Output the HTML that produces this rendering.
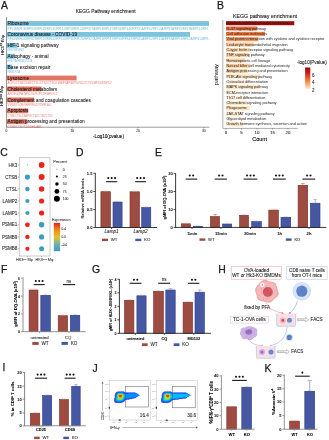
<!DOCTYPE html>
<html><head><meta charset="utf-8"><style>
html,body{margin:0;padding:0;background:#fff;}
svg{display:block;will-change:transform;}
text{font-family:"Liberation Sans", sans-serif;}
</style></head><body>
<svg width="329" height="440" viewBox="0 0 329 440">
<defs><filter id="blur03" x="-10%" y="-10%" width="120%" height="120%"><feGaussianBlur stdDeviation="0.3"/></filter></defs>
<rect width="329" height="440" fill="#fff"/>
<text x="1.0" y="8.8" font-size="10.4" fill="#1a1a1a" stroke="#1a1a1a" stroke-width="0.250" text-anchor="start" font-weight="normal" font-style="normal" >A</text>
<text x="105.6" y="12.9" font-size="4.9" fill="#111" stroke="#111" stroke-width="0.073" text-anchor="middle" font-weight="normal" font-style="normal" >KEGG Pathway enrichment</text>
<rect x="6.8" y="21.1" width="202.2" height="4.8" fill="#7dc3dc" stroke="none" stroke-width="0"/>
<text x="7.6" y="25.1" font-size="4.75" fill="#111" stroke="#111" stroke-width="0.050" text-anchor="start" font-weight="normal" font-style="normal" >Ribosome</text>
<text x="7.6" y="29.5" font-size="3.0" fill="#6ab8dc" textLength="200.9" lengthAdjust="spacingAndGlyphs">RPL13/RPL30/RPS29/RPL29/RPL32/RPL11/RPS8/RPL26/RPS27A/RPL8/RPL17/RPS3/RPS4X/RPS15A/RPL5/RPL13A/RPS3A/RPL9/RPL7A/RPS14/RPL</text>
<rect x="6.8" y="32.0" width="183.2" height="4.8" fill="#7dc3dc" stroke="none" stroke-width="0"/>
<text x="7.6" y="36.0" font-size="4.75" fill="#111" stroke="#111" stroke-width="0.050" text-anchor="start" font-weight="normal" font-style="normal" >Coronavirus disease - COVID-19</text>
<text x="7.6" y="40.4" font-size="3.0" fill="#6ab8dc" textLength="201.4" lengthAdjust="spacingAndGlyphs">RPL13/RPL30/RPS29/RPL29/RPL32/RPL11/RPS8/RPL26/RPS27A/RPL8/RPL17/RPS3/RPS4X/RPS15A/RPL5/RPL13A/RPS3A/RPL9/RPL7A/RPS14/RPL</text>
<rect x="6.8" y="42.9" width="10.8" height="4.8" fill="#7dc3dc" stroke="none" stroke-width="0"/>
<text x="7.6" y="46.9" font-size="4.75" fill="#111" stroke="#111" stroke-width="0.050" text-anchor="start" font-weight="normal" font-style="normal" >HIF-1 signaling pathway</text>
<text x="7.6" y="51.3" font-size="3.0" fill="#6ab8dc" textLength="16.5" lengthAdjust="spacingAndGlyphs">RPS6/TIMP1/ENO1</text>
<rect x="6.8" y="53.8" width="7.8" height="4.8" fill="#7dc3dc" stroke="none" stroke-width="0"/>
<text x="7.6" y="57.8" font-size="4.75" fill="#111" stroke="#111" stroke-width="0.050" text-anchor="start" font-weight="normal" font-style="normal" >Autophagy - animal</text>
<text x="7.6" y="62.199999999999996" font-size="3.0" fill="#6ab8dc" textLength="24.699999999999996" lengthAdjust="spacingAndGlyphs">RPS27A/HMGB1/CTSB</text>
<rect x="6.8" y="64.6" width="5.3999999999999995" height="4.8" fill="#7dc3dc" stroke="none" stroke-width="0"/>
<text x="7.6" y="68.6" font-size="4.75" fill="#111" stroke="#111" stroke-width="0.050" text-anchor="start" font-weight="normal" font-style="normal" >Base excision repair</text>
<text x="7.6" y="73.0" font-size="3.0" fill="#6ab8dc" textLength="12.4" lengthAdjust="spacingAndGlyphs">HMGB1/PCNA</text>
<rect x="6.8" y="75.6" width="69.8" height="4.8" fill="#e27664" stroke="none" stroke-width="0"/>
<text x="7.6" y="79.6" font-size="4.75" fill="#111" stroke="#111" stroke-width="0.050" text-anchor="start" font-weight="normal" font-style="normal" >Lysosome</text>
<text x="7.6" y="84.0" font-size="3.0" fill="#ee7a70" textLength="103.9" lengthAdjust="spacingAndGlyphs">ACP5/CTSB/CD68/CTSL/CTSZ/CTSD/LIPA/PSAP/ATP6V0D2/CTSK/MFSD8/NPC2</text>
<rect x="6.8" y="86.5" width="34.6" height="4.8" fill="#e27664" stroke="none" stroke-width="0"/>
<text x="7.6" y="90.5" font-size="4.75" fill="#111" stroke="#111" stroke-width="0.050" text-anchor="start" font-weight="normal" font-style="normal" >Cholesterol metabolism</text>
<text x="7.6" y="94.9" font-size="3.0" fill="#ee7a70" textLength="49.6" lengthAdjust="spacingAndGlyphs">APOE/LIPA/NPC2/LPL/PLTP/APOC2</text>
<rect x="6.8" y="97.5" width="27.3" height="4.8" fill="#e27664" stroke="none" stroke-width="0"/>
<text x="7.6" y="101.5" font-size="4.75" fill="#111" stroke="#111" stroke-width="0.050" text-anchor="start" font-weight="normal" font-style="normal" >Complement and coagulation cascades</text>
<text x="7.6" y="105.9" font-size="3.0" fill="#ee7a70" textLength="43.1" lengthAdjust="spacingAndGlyphs">VSIG4/C1QB/SERPING1/VTN/PLAU</text>
<rect x="6.8" y="108.4" width="21.4" height="4.8" fill="#e27664" stroke="none" stroke-width="0"/>
<text x="7.6" y="112.4" font-size="4.75" fill="#111" stroke="#111" stroke-width="0.050" text-anchor="start" font-weight="normal" font-style="normal" >Apoptosis</text>
<text x="7.6" y="116.80000000000001" font-size="3.0" fill="#ee7a70" textLength="45.1" lengthAdjust="spacingAndGlyphs">CTSB/CTSL/CASP3/CTSZ/CTSD/CTSC</text>
<rect x="6.8" y="119.2" width="20.599999999999998" height="4.8" fill="#e27664" stroke="none" stroke-width="0"/>
<text x="7.6" y="123.2" font-size="4.75" fill="#111" stroke="#111" stroke-width="0.050" text-anchor="start" font-weight="normal" font-style="normal" >Antigen processing and presentation</text>
<text x="7.6" y="127.60000000000001" font-size="3.0" fill="#ee7a70" textLength="33.9" lengthAdjust="spacingAndGlyphs">CTSB/CTSL/CD74/H2-AB1</text>
<line x1="6.5" y1="17" x2="6.5" y2="127.2" stroke="#333" stroke-width="0.5"/>
<line x1="6.5" y1="127.2" x2="209.5" y2="127.2" stroke="#333" stroke-width="0.5"/>
<line x1="6.5" y1="127.2" x2="6.5" y2="128.6" stroke="#333" stroke-width="0.4"/>
<text x="6.5" y="132.2" font-size="3.4" fill="#333" stroke="#333" stroke-width="0.051" text-anchor="middle" font-weight="normal" font-style="normal" >0</text>
<line x1="72.3" y1="127.2" x2="72.3" y2="128.6" stroke="#333" stroke-width="0.4"/>
<text x="72.3" y="132.2" font-size="3.4" fill="#333" stroke="#333" stroke-width="0.051" text-anchor="middle" font-weight="normal" font-style="normal" >10</text>
<line x1="138.0" y1="127.2" x2="138.0" y2="128.6" stroke="#333" stroke-width="0.4"/>
<text x="138.0" y="132.2" font-size="3.4" fill="#333" stroke="#333" stroke-width="0.051" text-anchor="middle" font-weight="normal" font-style="normal" >20</text>
<line x1="203.8" y1="127.2" x2="203.8" y2="128.6" stroke="#333" stroke-width="0.4"/>
<text x="203.8" y="132.2" font-size="3.4" fill="#333" stroke="#333" stroke-width="0.051" text-anchor="middle" font-weight="normal" font-style="normal" >30</text>
<text x="108.5" y="137.6" font-size="4.6" fill="#000" stroke="#000" stroke-width="0.069" text-anchor="middle" font-weight="normal" font-style="normal" >-Log10(pvalue)</text>
<text x="3.5" y="45" font-size="4.4" fill="#000" stroke="#000" stroke-width="0.066" text-anchor="middle" font-weight="normal" font-style="normal" transform="rotate(-90 3.5 45)" >HK3<tspan font-size="2.6" dy="-1.4">fl/fl</tspan><tspan dy="1.4"> Mφ</tspan></text>
<text x="3.3" y="96.2" font-size="4.4" fill="#000" stroke="#000" stroke-width="0.066" text-anchor="middle" font-weight="normal" font-style="normal" transform="rotate(-90 3.3 96.2)" >HK3<tspan font-size="2.6" dy="-1.4">cko</tspan><tspan dy="1.4"> Mφ</tspan></text>
<text x="217.0" y="9.3" font-size="10.4" fill="#1a1a1a" stroke="#1a1a1a" stroke-width="0.250" text-anchor="start" font-weight="normal" font-style="normal" >B</text>
<text x="265" y="17.6" font-size="5.3" fill="#111" stroke="#111" stroke-width="0.080" text-anchor="middle" font-weight="normal" font-style="normal" >KEGG pathway enrichment</text>
<rect x="226" y="21.2" width="68.30000000000001" height="4.0" fill="#a50a0a" stroke="none" stroke-width="0"/>
<text x="226.6" y="24.4" font-size="3.75" fill="#222" text-anchor="start" font-weight="normal" font-style="normal" >Cytokine-cytokine receptor interaction</text>
<rect x="226" y="26.516" width="31" height="4.0" fill="#ea6a3c" stroke="none" stroke-width="0"/>
<text x="226.6" y="29.715999999999998" font-size="3.75" fill="#222" text-anchor="start" font-weight="normal" font-style="normal" >IL-17 signaling pathway</text>
<rect x="226" y="31.832" width="39" height="4.0" fill="#f07c42" stroke="none" stroke-width="0"/>
<text x="226.6" y="35.032000000000004" font-size="3.75" fill="#222" text-anchor="start" font-weight="normal" font-style="normal" >Cell adhesion molecules</text>
<rect x="226" y="37.147999999999996" width="32.39999999999998" height="4.0" fill="#f5935a" stroke="none" stroke-width="0"/>
<text x="226.6" y="40.348" font-size="3.75" fill="#222" text-anchor="start" font-weight="normal" font-style="normal" >Viral protein interaction with cytokine and cytokine receptor</text>
<rect x="226" y="42.464" width="27.599999999999994" height="4.0" fill="#fac99a" stroke="none" stroke-width="0"/>
<text x="226.6" y="45.664" font-size="3.75" fill="#222" text-anchor="start" font-weight="normal" font-style="normal" >Leukocyte transendothelial migration</text>
<rect x="226" y="47.78" width="23.69999999999999" height="4.0" fill="#fbd6ae" stroke="none" stroke-width="0"/>
<text x="226.6" y="50.980000000000004" font-size="3.75" fill="#222" text-anchor="start" font-weight="normal" font-style="normal" >C-type lectin receptor signaling pathway</text>
<rect x="226" y="53.096000000000004" width="23" height="4.0" fill="#fbcf9f" stroke="none" stroke-width="0"/>
<text x="226.6" y="56.29600000000001" font-size="3.75" fill="#222" text-anchor="start" font-weight="normal" font-style="normal" >TNF signaling pathway</text>
<rect x="226" y="58.41199999999999" width="18.80000000000001" height="4.0" fill="#fbd3a6" stroke="none" stroke-width="0"/>
<text x="226.6" y="61.611999999999995" font-size="3.75" fill="#222" text-anchor="start" font-weight="normal" font-style="normal" >Hematopoietic cell lineage</text>
<rect x="226" y="63.727999999999994" width="24.30000000000001" height="4.0" fill="#fbcc98" stroke="none" stroke-width="0"/>
<text x="226.6" y="66.928" font-size="3.75" fill="#222" text-anchor="start" font-weight="normal" font-style="normal" >Natural killer cell mediated cytotoxicity</text>
<rect x="226" y="69.044" width="21.5" height="4.0" fill="#fbd0a0" stroke="none" stroke-width="0"/>
<text x="226.6" y="72.244" font-size="3.75" fill="#222" text-anchor="start" font-weight="normal" font-style="normal" >Antigen processing and presentation</text>
<rect x="226" y="74.36" width="34" height="4.0" fill="#fde2bc" stroke="none" stroke-width="0"/>
<text x="226.6" y="77.56" font-size="3.75" fill="#222" text-anchor="start" font-weight="normal" font-style="normal" >PI3K-Akt signaling pathway</text>
<rect x="226" y="79.676" width="21.69999999999999" height="4.0" fill="#feeedb" stroke="none" stroke-width="0"/>
<text x="226.6" y="82.876" font-size="3.75" fill="#222" text-anchor="start" font-weight="normal" font-style="normal" >Osteoclast differentiation</text>
<rect x="226" y="84.992" width="33.60000000000002" height="4.0" fill="#fde2bc" stroke="none" stroke-width="0"/>
<text x="226.6" y="88.19200000000001" font-size="3.75" fill="#222" text-anchor="start" font-weight="normal" font-style="normal" >MAPK signaling pathway</text>
<rect x="226" y="90.308" width="12" height="4.0" fill="#feeedb" stroke="none" stroke-width="0"/>
<text x="226.6" y="93.50800000000001" font-size="3.75" fill="#222" text-anchor="start" font-weight="normal" font-style="normal" >ECM-receptor interaction</text>
<rect x="226" y="95.624" width="20" height="4.0" fill="#feeddb" stroke="none" stroke-width="0"/>
<text x="226.6" y="98.824" font-size="3.75" fill="#222" text-anchor="start" font-weight="normal" font-style="normal" >Th17 cell differentiation</text>
<rect x="226" y="100.94" width="21.69999999999999" height="4.0" fill="#fde6c6" stroke="none" stroke-width="0"/>
<text x="226.6" y="104.14" font-size="3.75" fill="#222" text-anchor="start" font-weight="normal" font-style="normal" >Chemokine signaling pathway</text>
<rect x="226" y="106.256" width="23.5" height="4.0" fill="#fde0b8" stroke="none" stroke-width="0"/>
<text x="226.6" y="109.456" font-size="3.75" fill="#222" text-anchor="start" font-weight="normal" font-style="normal" >Phagosome</text>
<rect x="226" y="111.572" width="16.19999999999999" height="4.0" fill="#fde6c6" stroke="none" stroke-width="0"/>
<text x="226.6" y="114.772" font-size="3.75" fill="#222" text-anchor="start" font-weight="normal" font-style="normal" >JAK-STAT signaling pathway</text>
<rect x="226" y="116.888" width="9" height="4.0" fill="#fef1e0" stroke="none" stroke-width="0"/>
<text x="226.6" y="120.08800000000001" font-size="3.75" fill="#222" text-anchor="start" font-weight="normal" font-style="normal" >Glycerolipid metabolism</text>
<rect x="226" y="122.204" width="17.19999999999999" height="4.0" fill="#fde4c0" stroke="none" stroke-width="0"/>
<text x="226.6" y="125.404" font-size="3.75" fill="#222" text-anchor="start" font-weight="normal" font-style="normal" >Growth hormone synthesis, secretion and action</text>
<line x1="222.8" y1="20" x2="222.8" y2="128.4" stroke="#777" stroke-width="0.6"/>
<line x1="222.8" y1="128.4" x2="297.7" y2="128.4" stroke="#777" stroke-width="0.6"/>
<line x1="226.0" y1="128.3" x2="226.0" y2="129.6" stroke="#333" stroke-width="0.4"/>
<text x="226.0" y="134.3" font-size="4.4" fill="#222" stroke="#222" stroke-width="0.066" text-anchor="middle" font-weight="normal" font-style="normal" >0</text>
<line x1="241.5" y1="128.3" x2="241.5" y2="129.6" stroke="#333" stroke-width="0.4"/>
<text x="241.5" y="134.3" font-size="4.4" fill="#222" stroke="#222" stroke-width="0.066" text-anchor="middle" font-weight="normal" font-style="normal" >5</text>
<line x1="257.0" y1="128.3" x2="257.0" y2="129.6" stroke="#333" stroke-width="0.4"/>
<text x="257.0" y="134.3" font-size="4.4" fill="#222" stroke="#222" stroke-width="0.066" text-anchor="middle" font-weight="normal" font-style="normal" >10</text>
<line x1="272.5" y1="128.3" x2="272.5" y2="129.6" stroke="#333" stroke-width="0.4"/>
<text x="272.5" y="134.3" font-size="4.4" fill="#222" stroke="#222" stroke-width="0.066" text-anchor="middle" font-weight="normal" font-style="normal" >15</text>
<line x1="288.0" y1="128.3" x2="288.0" y2="129.6" stroke="#333" stroke-width="0.4"/>
<text x="288.0" y="134.3" font-size="4.4" fill="#222" stroke="#222" stroke-width="0.066" text-anchor="middle" font-weight="normal" font-style="normal" >20</text>
<text x="259.6" y="141.2" font-size="5.5" fill="#000" stroke="#000" stroke-width="0.082" text-anchor="middle" font-weight="normal" font-style="normal" >Count</text>
<text x="218.0" y="74.5" font-size="5.6" fill="#000" text-anchor="middle" font-weight="normal" font-style="normal" transform="rotate(-90 218.0 74.5)" >pathway</text>
<text x="311.9" y="64.3" font-size="4.6" fill="#111" stroke="#111" stroke-width="0.069" text-anchor="middle" font-weight="normal" font-style="normal" >-log10(Pvalue)</text>
<defs><linearGradient id="gB" x1="0" y1="0" x2="0" y2="1"><stop offset="0" stop-color="#960606"/><stop offset="0.3" stop-color="#dc2424"/><stop offset="0.55" stop-color="#f07034"/><stop offset="0.78" stop-color="#f8b274"/><stop offset="1" stop-color="#fdebcc"/></linearGradient></defs>
<rect x="305.1" y="67.5" width="5.2" height="21.5" fill="url(#gB)" stroke="none" stroke-width="0"/>
<text x="311.9" y="77.19999999999999" font-size="4.5" fill="#222" stroke="#222" stroke-width="0.068" text-anchor="start" font-weight="normal" font-style="normal" >6</text>
<text x="311.9" y="84.39999999999999" font-size="4.5" fill="#222" stroke="#222" stroke-width="0.068" text-anchor="start" font-weight="normal" font-style="normal" >4</text>
<text x="311.9" y="91.89999999999999" font-size="4.5" fill="#222" stroke="#222" stroke-width="0.068" text-anchor="start" font-weight="normal" font-style="normal" >2</text>
<text x="0.3" y="156.3" font-size="10.4" fill="#1a1a1a" stroke="#1a1a1a" stroke-width="0.250" text-anchor="start" font-weight="normal" font-style="normal" >C</text>
<rect x="19.2" y="157.8" width="30.8" height="98.2" fill="#fff" stroke="#999" stroke-width="0.5"/>
<text x="17.3" y="166.65" font-size="4.55" fill="#222" stroke="#222" stroke-width="0.068" text-anchor="end" font-weight="normal" font-style="normal" >HK3</text>
<line x1="17.6" y1="165.0" x2="19.2" y2="165.0" stroke="#555" stroke-width="0.4"/>
<circle cx="27.4" cy="165.0" r="0.5" fill="#3c9dc0"/>
<circle cx="41.6" cy="165.0" r="2.9" fill="#e8261e"/>
<text x="17.3" y="178.75" font-size="4.55" fill="#222" stroke="#222" stroke-width="0.068" text-anchor="end" font-weight="normal" font-style="normal" >CTSB</text>
<line x1="17.6" y1="177.1" x2="19.2" y2="177.1" stroke="#555" stroke-width="0.4"/>
<circle cx="27.4" cy="177.1" r="2.6" fill="#3c9dc0"/>
<circle cx="41.6" cy="177.1" r="3.0" fill="#e8261e"/>
<text x="17.3" y="190.65" font-size="4.55" fill="#222" stroke="#222" stroke-width="0.068" text-anchor="end" font-weight="normal" font-style="normal" >CTSL</text>
<line x1="17.6" y1="189.0" x2="19.2" y2="189.0" stroke="#555" stroke-width="0.4"/>
<circle cx="27.4" cy="189.0" r="2.2" fill="#3c9dc0"/>
<circle cx="41.6" cy="189.0" r="2.7" fill="#e8261e"/>
<text x="17.3" y="202.65" font-size="4.55" fill="#222" stroke="#222" stroke-width="0.068" text-anchor="end" font-weight="normal" font-style="normal" >LAMP2</text>
<line x1="17.6" y1="201.0" x2="19.2" y2="201.0" stroke="#555" stroke-width="0.4"/>
<circle cx="27.4" cy="201.0" r="2.1" fill="#3c9dc0"/>
<circle cx="41.6" cy="201.0" r="2.6" fill="#e8261e"/>
<text x="17.3" y="214.65" font-size="4.55" fill="#222" stroke="#222" stroke-width="0.068" text-anchor="end" font-weight="normal" font-style="normal" >LAMP1</text>
<line x1="17.6" y1="213.0" x2="19.2" y2="213.0" stroke="#555" stroke-width="0.4"/>
<circle cx="27.4" cy="213.0" r="2.1" fill="#3c9dc0"/>
<circle cx="41.6" cy="213.0" r="2.6" fill="#e8261e"/>
<text x="17.3" y="226.45000000000002" font-size="4.55" fill="#222" stroke="#222" stroke-width="0.068" text-anchor="end" font-weight="normal" font-style="normal" >PSME1</text>
<line x1="17.6" y1="224.8" x2="19.2" y2="224.8" stroke="#555" stroke-width="0.4"/>
<circle cx="27.4" cy="224.8" r="2.4" fill="#e8261e"/>
<circle cx="41.6" cy="224.8" r="2.7" fill="#3c9dc0"/>
<text x="17.3" y="238.55" font-size="4.55" fill="#222" stroke="#222" stroke-width="0.068" text-anchor="end" font-weight="normal" font-style="normal" >PSMB9</text>
<line x1="17.6" y1="236.9" x2="19.2" y2="236.9" stroke="#555" stroke-width="0.4"/>
<circle cx="27.4" cy="236.9" r="2.2" fill="#e8261e"/>
<circle cx="41.6" cy="236.9" r="2.6" fill="#3c9dc0"/>
<text x="17.3" y="250.45000000000002" font-size="4.55" fill="#222" stroke="#222" stroke-width="0.068" text-anchor="end" font-weight="normal" font-style="normal" >PSMB8</text>
<line x1="17.6" y1="248.8" x2="19.2" y2="248.8" stroke="#555" stroke-width="0.4"/>
<circle cx="27.4" cy="248.8" r="2.1" fill="#e8261e"/>
<circle cx="41.6" cy="248.8" r="2.5" fill="#3c9dc0"/>
<line x1="27.4" y1="256" x2="27.4" y2="257.4" stroke="#555" stroke-width="0.4"/>
<line x1="41.6" y1="256" x2="41.6" y2="257.4" stroke="#555" stroke-width="0.4"/>
<text x="24.5" y="261.3" font-size="3.8" fill="#333" stroke="#333" stroke-width="0.057" text-anchor="middle" font-weight="normal" font-style="normal" >HK3<tspan font-size="2.4" dy="-1.2">fl/fl</tspan><tspan dy="1.2"> Mφ</tspan></text>
<text x="44.5" y="261.3" font-size="3.8" fill="#333" stroke="#333" stroke-width="0.057" text-anchor="middle" font-weight="normal" font-style="normal" >HK3<tspan font-size="2.4" dy="-1.2">cko</tspan><tspan dy="1.2"> Mφ</tspan></text>
<text x="53.3" y="162.9" font-size="3.95" fill="#333" stroke="#333" stroke-width="0.059" text-anchor="start" font-weight="normal" font-style="normal" >Percent</text>
<line x1="56.3" y1="169.2" x2="57.5" y2="169.2" stroke="#000" stroke-width="0.4"/>
<text x="62.8" y="170.5" font-size="3.4" fill="#333" stroke="#333" stroke-width="0.051" text-anchor="start" font-weight="normal" font-style="normal" >0</text>
<circle cx="56.9" cy="176.5" r="1.0" fill="#000"/>
<text x="62.8" y="177.8" font-size="3.4" fill="#333" stroke="#333" stroke-width="0.051" text-anchor="start" font-weight="normal" font-style="normal" >25</text>
<circle cx="56.9" cy="184" r="1.7" fill="#000"/>
<text x="62.8" y="185.3" font-size="3.4" fill="#333" stroke="#333" stroke-width="0.051" text-anchor="start" font-weight="normal" font-style="normal" >50</text>
<circle cx="56.9" cy="191.4" r="2.4" fill="#000"/>
<text x="62.8" y="192.70000000000002" font-size="3.4" fill="#333" stroke="#333" stroke-width="0.051" text-anchor="start" font-weight="normal" font-style="normal" >75</text>
<circle cx="56.9" cy="198.8" r="3.0" fill="#000"/>
<text x="62.8" y="200.10000000000002" font-size="3.4" fill="#333" stroke="#333" stroke-width="0.051" text-anchor="start" font-weight="normal" font-style="normal" >100</text>
<text x="52" y="220.6" font-size="3.74" fill="#333" stroke="#333" stroke-width="0.056" text-anchor="start" font-weight="normal" font-style="normal" >Expression</text>
<defs><linearGradient id="gC" x1="0" y1="0" x2="0" y2="1"><stop offset="0" stop-color="#e8221c"/><stop offset="0.25" stop-color="#ef8a1e"/><stop offset="0.5" stop-color="#e7c321"/><stop offset="0.75" stop-color="#6fb0b0"/><stop offset="1" stop-color="#3a9cc2"/></linearGradient></defs>
<rect x="53.8" y="222.9" width="6.3" height="28.3" fill="url(#gC)" stroke="none" stroke-width="0"/>
<text x="61.6" y="230.2" font-size="3.2" fill="#333" stroke="#333" stroke-width="0.048" text-anchor="start" font-weight="normal" font-style="normal" >0.4</text>
<text x="61.6" y="238.2" font-size="3.2" fill="#333" stroke="#333" stroke-width="0.048" text-anchor="start" font-weight="normal" font-style="normal" >0.0</text>
<text x="61.6" y="246.0" font-size="3.2" fill="#333" stroke="#333" stroke-width="0.048" text-anchor="start" font-weight="normal" font-style="normal" >-0.4</text>
<text x="76.0" y="156.0" font-size="10.4" fill="#1a1a1a" stroke="#1a1a1a" stroke-width="0.250" text-anchor="start" font-weight="normal" font-style="normal" >D</text>
<line x1="95.3" y1="172.9" x2="95.3" y2="227.9" stroke="#222" stroke-width="0.9"/>
<line x1="93.3" y1="173.3" x2="95.3" y2="173.3" stroke="#222" stroke-width="0.8"/>
<text x="92.39999999999999" y="174.75" font-size="4.0" fill="#222" stroke="#222" stroke-width="0.060" text-anchor="end" font-weight="bold" font-style="normal" >1.5</text>
<line x1="93.3" y1="191.5" x2="95.3" y2="191.5" stroke="#222" stroke-width="0.8"/>
<text x="92.39999999999999" y="192.95" font-size="4.0" fill="#222" stroke="#222" stroke-width="0.060" text-anchor="end" font-weight="bold" font-style="normal" >1.0</text>
<line x1="93.3" y1="209.5" x2="95.3" y2="209.5" stroke="#222" stroke-width="0.8"/>
<text x="92.39999999999999" y="210.95" font-size="4.0" fill="#222" stroke="#222" stroke-width="0.060" text-anchor="end" font-weight="bold" font-style="normal" >0.5</text>
<line x1="93.3" y1="227.5" x2="95.3" y2="227.5" stroke="#222" stroke-width="0.8"/>
<text x="92.39999999999999" y="228.95" font-size="4.0" fill="#222" stroke="#222" stroke-width="0.060" text-anchor="end" font-weight="bold" font-style="normal" >0.0</text>
<rect x="100.89999999999999" y="191.70000000000002" width="9.600000000000003" height="35.8" fill="#9e4c42" stroke="#7a2e24" stroke-width="0.6"/>
<line x1="103.89999999999999" y1="190.9" x2="107.49999999999999" y2="190.9" stroke="#e6b8b0" stroke-width="0.5"/>
<rect x="113.0" y="202.0" width="9.100000000000003" height="25.50000000000001" fill="#4658a4" stroke="#2a3a82" stroke-width="0.6"/>
<line x1="115.75000000000001" y1="201.2" x2="119.35000000000001" y2="201.2" stroke="#b0bce6" stroke-width="0.5"/>
<rect x="130.0" y="191.8" width="9.500000000000023" height="35.7" fill="#9e4c42" stroke="#7a2e24" stroke-width="0.6"/>
<line x1="132.95" y1="191.0" x2="136.55" y2="191.0" stroke="#e6b8b0" stroke-width="0.5"/>
<rect x="141.70000000000002" y="207.5" width="9.099999999999989" height="20.00000000000001" fill="#4658a4" stroke="#2a3a82" stroke-width="0.6"/>
<line x1="144.45" y1="206.7" x2="148.05" y2="206.7" stroke="#b0bce6" stroke-width="0.5"/>
<line x1="95.3" y1="227.5" x2="157" y2="227.5" stroke="#222" stroke-width="0.9"/>
<line x1="111.6" y1="227.5" x2="111.6" y2="229.1" stroke="#222" stroke-width="0.8"/>
<line x1="140.4" y1="227.5" x2="140.4" y2="229.1" stroke="#222" stroke-width="0.8"/>
<line x1="106" y1="181.7" x2="117.3" y2="181.7" stroke="#1a1a1a" stroke-width="1.1"/>
<circle cx="108.25" cy="178.10" r="1.05" fill="#111"/>
<circle cx="111.65" cy="178.10" r="1.05" fill="#111"/>
<circle cx="115.05" cy="178.10" r="1.05" fill="#111"/>
<line x1="135.2" y1="181.7" x2="146" y2="181.7" stroke="#1a1a1a" stroke-width="1.1"/>
<circle cx="137.20" cy="178.10" r="1.05" fill="#111"/>
<circle cx="140.60" cy="178.10" r="1.05" fill="#111"/>
<circle cx="144.00" cy="178.10" r="1.05" fill="#111"/>
<text x="111.6" y="233.3" font-size="4.6" fill="#222" stroke="#222" stroke-width="0.069" text-anchor="middle" font-weight="normal" font-style="italic" >Lamp1</text>
<text x="140.5" y="233.3" font-size="4.6" fill="#222" stroke="#222" stroke-width="0.069" text-anchor="middle" font-weight="normal" font-style="italic" >Lamp2</text>
<rect x="102" y="238.70000000000002" width="6.0" height="2.4" fill="#9e4c42" stroke="none" stroke-width="0"/>
<text x="110.8" y="241.448" font-size="4.3" fill="#222" stroke="#222" stroke-width="0.065" text-anchor="start" font-weight="normal" font-style="normal" >WT</text>
<rect x="135.3" y="238.70000000000002" width="6.0" height="2.4" fill="#4658a4" stroke="none" stroke-width="0"/>
<text x="144.10000000000002" y="241.448" font-size="4.3" fill="#222" stroke="#222" stroke-width="0.065" text-anchor="start" font-weight="normal" font-style="normal" >KO</text>
<text x="83.7" y="198.4" font-size="3.95" fill="#222" stroke="#222" stroke-width="0.059" text-anchor="middle" font-weight="bold" font-style="normal" transform="rotate(-90 83.7 198.4)" >Relative mRNA levels</text>
<text x="155.0" y="156.0" font-size="10.4" fill="#1a1a1a" stroke="#1a1a1a" stroke-width="0.250" text-anchor="start" font-weight="normal" font-style="normal" >E</text>
<line x1="175.6" y1="173.2" x2="175.6" y2="227.8" stroke="#222" stroke-width="0.9"/>
<line x1="173.6" y1="173.6" x2="175.6" y2="173.6" stroke="#222" stroke-width="0.8"/>
<text x="172.7" y="175.04999999999998" font-size="4.0" fill="#222" stroke="#222" stroke-width="0.060" text-anchor="end" font-weight="bold" font-style="normal" >30</text>
<line x1="173.6" y1="191.5" x2="175.6" y2="191.5" stroke="#222" stroke-width="0.8"/>
<text x="172.7" y="192.95" font-size="4.0" fill="#222" stroke="#222" stroke-width="0.060" text-anchor="end" font-weight="bold" font-style="normal" >20</text>
<line x1="173.6" y1="209.4" x2="175.6" y2="209.4" stroke="#222" stroke-width="0.8"/>
<text x="172.7" y="210.85" font-size="4.0" fill="#222" stroke="#222" stroke-width="0.060" text-anchor="end" font-weight="bold" font-style="normal" >10</text>
<line x1="173.6" y1="227.4" x2="175.6" y2="227.4" stroke="#222" stroke-width="0.8"/>
<text x="172.7" y="228.85" font-size="4.0" fill="#222" stroke="#222" stroke-width="0.060" text-anchor="end" font-weight="bold" font-style="normal" >0</text>
<rect x="181.3" y="223.8" width="9.099999999999989" height="3.600000000000006" fill="#9e4c42" stroke="#7a2e24" stroke-width="0.6"/>
<line x1="184.04999999999998" y1="223.0" x2="187.65" y2="223.0" stroke="#e6b8b0" stroke-width="0.5"/>
<rect x="193.3" y="226.4" width="9.200000000000012" height="1.0000000000000113" fill="#4658a4" stroke="#2a3a82" stroke-width="0.6"/>
<line x1="196.1" y1="225.6" x2="199.70000000000002" y2="225.6" stroke="#b0bce6" stroke-width="0.5"/>
<rect x="210.4" y="216.5" width="9.200000000000012" height="10.900000000000016" fill="#9e4c42" stroke="#7a2e24" stroke-width="0.6"/>
<line x1="215.0" y1="214.5" x2="215.0" y2="216.2" stroke="#c07060" stroke-width="0.6"/>
<line x1="213.2" y1="214.5" x2="216.8" y2="214.5" stroke="#c07060" stroke-width="0.6"/>
<rect x="222.60000000000002" y="224.0" width="9.099999999999989" height="3.4000000000000172" fill="#4658a4" stroke="#2a3a82" stroke-width="0.6"/>
<line x1="225.35" y1="223.2" x2="228.95000000000002" y2="223.2" stroke="#b0bce6" stroke-width="0.5"/>
<rect x="239.60000000000002" y="215.3" width="8.9" height="12.100000000000005" fill="#9e4c42" stroke="#7a2e24" stroke-width="0.6"/>
<line x1="242.25" y1="214.5" x2="245.85000000000002" y2="214.5" stroke="#e6b8b0" stroke-width="0.5"/>
<rect x="251.70000000000002" y="221.60000000000002" width="9.600000000000017" height="5.7999999999999945" fill="#4658a4" stroke="#2a3a82" stroke-width="0.6"/>
<line x1="254.7" y1="220.8" x2="258.3" y2="220.8" stroke="#b0bce6" stroke-width="0.5"/>
<rect x="268.8" y="210.10000000000002" width="9.599999999999989" height="17.299999999999994" fill="#9e4c42" stroke="#7a2e24" stroke-width="0.6"/>
<line x1="271.8" y1="209.3" x2="275.40000000000003" y2="209.3" stroke="#e6b8b0" stroke-width="0.5"/>
<rect x="281.0" y="217.3" width="9.700000000000012" height="10.100000000000005" fill="#4658a4" stroke="#2a3a82" stroke-width="0.6"/>
<line x1="284.05" y1="216.5" x2="287.65000000000003" y2="216.5" stroke="#b0bce6" stroke-width="0.5"/>
<rect x="298.1" y="185.3" width="9.599999999999989" height="42.10000000000001" fill="#9e4c42" stroke="#7a2e24" stroke-width="0.6"/>
<line x1="302.9" y1="183.5" x2="302.9" y2="185" stroke="#c07060" stroke-width="0.6"/>
<line x1="301.09999999999997" y1="183.5" x2="304.7" y2="183.5" stroke="#c07060" stroke-width="0.6"/>
<rect x="310.40000000000003" y="203.20000000000002" width="9.599999999999989" height="24.2" fill="#4658a4" stroke="#2a3a82" stroke-width="0.6"/>
<line x1="315.20000000000005" y1="199.6" x2="315.20000000000005" y2="202.9" stroke="#7d8dd0" stroke-width="0.6"/>
<line x1="313.40000000000003" y1="199.6" x2="317.00000000000006" y2="199.6" stroke="#7d8dd0" stroke-width="0.6"/>
<line x1="175.6" y1="227.4" x2="326.2" y2="227.4" stroke="#222" stroke-width="0.9"/>
<line x1="192" y1="227.4" x2="192" y2="229.0" stroke="#222" stroke-width="0.8"/>
<line x1="221" y1="227.4" x2="221" y2="229.0" stroke="#222" stroke-width="0.8"/>
<line x1="250.4" y1="227.4" x2="250.4" y2="229.0" stroke="#222" stroke-width="0.8"/>
<line x1="279.6" y1="227.4" x2="279.6" y2="229.0" stroke="#222" stroke-width="0.8"/>
<line x1="309" y1="227.4" x2="309" y2="229.0" stroke="#222" stroke-width="0.8"/>
<line x1="185.6" y1="179.1" x2="197.3" y2="179.1" stroke="#1a1a1a" stroke-width="1.1"/>
<circle cx="189.75" cy="175.50" r="1.05" fill="#111"/>
<circle cx="193.15" cy="175.50" r="1.05" fill="#111"/>
<line x1="214.7" y1="179.1" x2="226.9" y2="179.1" stroke="#1a1a1a" stroke-width="1.1"/>
<circle cx="219.10" cy="175.50" r="1.05" fill="#111"/>
<circle cx="222.50" cy="175.50" r="1.05" fill="#111"/>
<line x1="243.6" y1="179.1" x2="257.3" y2="179.1" stroke="#1a1a1a" stroke-width="1.1"/>
<circle cx="247.05" cy="175.50" r="1.05" fill="#111"/>
<circle cx="250.45" cy="175.50" r="1.05" fill="#111"/>
<circle cx="253.85" cy="175.50" r="1.05" fill="#111"/>
<line x1="273" y1="179.1" x2="285.8" y2="179.1" stroke="#1a1a1a" stroke-width="1.1"/>
<circle cx="276.00" cy="175.50" r="1.05" fill="#111"/>
<circle cx="279.40" cy="175.50" r="1.05" fill="#111"/>
<circle cx="282.80" cy="175.50" r="1.05" fill="#111"/>
<line x1="302.4" y1="179.1" x2="315.2" y2="179.1" stroke="#1a1a1a" stroke-width="1.1"/>
<circle cx="307.10" cy="175.50" r="1.05" fill="#111"/>
<circle cx="310.50" cy="175.50" r="1.05" fill="#111"/>
<text x="192.5" y="234.7" font-size="4.2" fill="#222" stroke="#222" stroke-width="0.063" text-anchor="middle" font-weight="bold" font-style="normal" >5min</text>
<text x="221" y="234.7" font-size="4.2" fill="#222" stroke="#222" stroke-width="0.063" text-anchor="middle" font-weight="bold" font-style="normal" >15min</text>
<text x="250" y="234.7" font-size="4.2" fill="#222" stroke="#222" stroke-width="0.063" text-anchor="middle" font-weight="bold" font-style="normal" >30min</text>
<text x="279.6" y="234.7" font-size="4.2" fill="#222" stroke="#222" stroke-width="0.063" text-anchor="middle" font-weight="bold" font-style="normal" >1h</text>
<text x="309" y="234.7" font-size="4.2" fill="#222" stroke="#222" stroke-width="0.063" text-anchor="middle" font-weight="bold" font-style="normal" >2h</text>
<rect x="199.5" y="238.4" width="5.8" height="2.4" fill="#9e4c42" stroke="none" stroke-width="0"/>
<text x="208.10000000000002" y="241.076" font-size="4.1" fill="#222" stroke="#222" stroke-width="0.061" text-anchor="start" font-weight="normal" font-style="normal" >WT</text>
<rect x="285.8" y="238.4" width="5.8" height="2.4" fill="#4658a4" stroke="none" stroke-width="0"/>
<text x="294.40000000000003" y="241.076" font-size="4.1" fill="#222" stroke="#222" stroke-width="0.061" text-anchor="start" font-weight="normal" font-style="normal" >KO</text>
<text x="166.3" y="197.6" font-size="4.1" fill="#000" stroke="#000" stroke-width="0.061" text-anchor="middle" font-weight="bold" font-style="normal" transform="rotate(-90 166.3 197.6)" >gMFI of DQ-OVA (x10<tspan font-size="2.6" dy="-1.3">3</tspan><tspan dy="1.3">)</tspan></text>
<text x="1.0" y="272.8" font-size="10.4" fill="#1a1a1a" stroke="#1a1a1a" stroke-width="0.250" text-anchor="start" font-weight="normal" font-style="normal" >F</text>
<line x1="23.0" y1="277.40000000000003" x2="23.0" y2="332.09999999999997" stroke="#888" stroke-width="0.9"/>
<line x1="21.0" y1="278.2" x2="23.0" y2="278.2" stroke="#888" stroke-width="0.8"/>
<text x="20.1" y="279.65" font-size="3.6" fill="#222" stroke="#222" stroke-width="0.054" text-anchor="end" font-weight="bold" font-style="normal" >6</text>
<line x1="21.0" y1="296.1" x2="23.0" y2="296.1" stroke="#888" stroke-width="0.8"/>
<text x="20.1" y="297.55" font-size="3.6" fill="#222" stroke="#222" stroke-width="0.054" text-anchor="end" font-weight="bold" font-style="normal" >4</text>
<line x1="21.0" y1="313.8" x2="23.0" y2="313.8" stroke="#888" stroke-width="0.8"/>
<text x="20.1" y="315.25" font-size="3.6" fill="#222" stroke="#222" stroke-width="0.054" text-anchor="end" font-weight="bold" font-style="normal" >2</text>
<line x1="21.0" y1="331.6" x2="23.0" y2="331.6" stroke="#888" stroke-width="0.8"/>
<text x="20.1" y="333.05" font-size="3.6" fill="#222" stroke="#222" stroke-width="0.054" text-anchor="end" font-weight="bold" font-style="normal" >0</text>
<rect x="29.1" y="290.0" width="8.899999999999997" height="41.7" fill="#9e4c42" stroke="#7a2e24" stroke-width="0.6"/>
<line x1="31.749999999999996" y1="289.2" x2="35.349999999999994" y2="289.2" stroke="#e6b8b0" stroke-width="0.5"/>
<rect x="40.8" y="295.3" width="9.600000000000003" height="36.39999999999999" fill="#4658a4" stroke="#2a3a82" stroke-width="0.6"/>
<line x1="43.800000000000004" y1="294.5" x2="47.4" y2="294.5" stroke="#b0bce6" stroke-width="0.5"/>
<rect x="58.199999999999996" y="315.7" width="9.400000000000007" height="16.00000000000001" fill="#9e4c42" stroke="#7a2e24" stroke-width="0.6"/>
<line x1="61.10000000000001" y1="314.9" x2="64.7" y2="314.9" stroke="#e6b8b0" stroke-width="0.5"/>
<rect x="70.3" y="315.3" width="9.499999999999995" height="16.399999999999988" fill="#4658a4" stroke="#2a3a82" stroke-width="0.6"/>
<line x1="73.25" y1="314.5" x2="76.85" y2="314.5" stroke="#b0bce6" stroke-width="0.5"/>
<line x1="23.0" y1="331.7" x2="85.7" y2="331.7" stroke="#888" stroke-width="0.9"/>
<line x1="39.6" y1="331.7" x2="39.6" y2="333.3" stroke="#888" stroke-width="0.8"/>
<line x1="69" y1="331.7" x2="69" y2="333.3" stroke="#888" stroke-width="0.8"/>
<line x1="33.7" y1="284.6" x2="44.7" y2="284.6" stroke="#1a1a1a" stroke-width="1.1"/>
<circle cx="35.80" cy="281.00" r="1.05" fill="#111"/>
<circle cx="39.20" cy="281.00" r="1.05" fill="#111"/>
<circle cx="42.60" cy="281.00" r="1.05" fill="#111"/>
<line x1="62.9" y1="284.6" x2="75.1" y2="284.6" stroke="#1a1a1a" stroke-width="1.1"/>
<text x="69.0" y="282.6" font-size="4.5" fill="#222" stroke="#222" stroke-width="0.068" text-anchor="middle" font-weight="normal" font-style="normal" >ns</text>
<text x="39.6" y="338.8" font-size="4.3" fill="#222" stroke="#222" stroke-width="0.065" text-anchor="middle" font-weight="normal" font-style="normal" >untreated</text>
<text x="68.2" y="338.8" font-size="4.3" fill="#222" stroke="#222" stroke-width="0.065" text-anchor="middle" font-weight="normal" font-style="normal" >CQ</text>
<rect x="32.3" y="341.9" width="6.4" height="3.0" fill="#9e4c42" stroke="none" stroke-width="0"/>
<text x="41.49999999999999" y="345.056" font-size="4.6" fill="#222" stroke="#222" stroke-width="0.069" text-anchor="start" font-weight="normal" font-style="normal" >WT</text>
<rect x="61.5" y="341.9" width="6.4" height="3.0" fill="#4658a4" stroke="none" stroke-width="0"/>
<text x="70.7" y="345.056" font-size="4.6" fill="#222" stroke="#222" stroke-width="0.069" text-anchor="start" font-weight="normal" font-style="normal" >KO</text>
<text x="16.8" y="303.8" font-size="4.3" fill="#000" stroke="#000" stroke-width="0.065" text-anchor="middle" font-weight="bold" font-style="normal" transform="rotate(-90 16.8 303.8)" >gMFI of DQ-OVA (x10<tspan font-size="2.6" dy="-1.3">3</tspan><tspan dy="1.3">)</tspan></text>
<text x="92.0" y="273.2" font-size="10.4" fill="#1a1a1a" stroke="#1a1a1a" stroke-width="0.250" text-anchor="start" font-weight="normal" font-style="normal" >G</text>
<line x1="119.4" y1="278.90000000000003" x2="119.4" y2="333.7" stroke="#222" stroke-width="0.9"/>
<line x1="117.4" y1="279.3" x2="119.4" y2="279.3" stroke="#222" stroke-width="0.8"/>
<text x="116.5" y="280.75" font-size="3.6" fill="#222" stroke="#222" stroke-width="0.054" text-anchor="end" font-weight="bold" font-style="normal" >4</text>
<line x1="117.4" y1="292.8" x2="119.4" y2="292.8" stroke="#222" stroke-width="0.8"/>
<text x="116.5" y="294.25" font-size="3.6" fill="#222" stroke="#222" stroke-width="0.054" text-anchor="end" font-weight="bold" font-style="normal" >3</text>
<line x1="117.4" y1="306.4" x2="119.4" y2="306.4" stroke="#222" stroke-width="0.8"/>
<text x="116.5" y="307.84999999999997" font-size="3.6" fill="#222" stroke="#222" stroke-width="0.054" text-anchor="end" font-weight="bold" font-style="normal" >2</text>
<line x1="117.4" y1="319.8" x2="119.4" y2="319.8" stroke="#222" stroke-width="0.8"/>
<text x="116.5" y="321.25" font-size="3.6" fill="#222" stroke="#222" stroke-width="0.054" text-anchor="end" font-weight="bold" font-style="normal" >1</text>
<line x1="117.4" y1="333.3" x2="119.4" y2="333.3" stroke="#222" stroke-width="0.8"/>
<text x="116.5" y="334.75" font-size="3.6" fill="#222" stroke="#222" stroke-width="0.054" text-anchor="end" font-weight="bold" font-style="normal" >0</text>
<rect x="124.5" y="300.3" width="9.399999999999986" height="33.000000000000014" fill="#9e4c42" stroke="#7a2e24" stroke-width="0.6"/>
<line x1="127.39999999999999" y1="299.5" x2="131.0" y2="299.5" stroke="#e6b8b0" stroke-width="0.5"/>
<rect x="136.9" y="295.8" width="9.200000000000012" height="37.500000000000014" fill="#4658a4" stroke="#2a3a82" stroke-width="0.6"/>
<line x1="139.7" y1="295.0" x2="143.3" y2="295.0" stroke="#b0bce6" stroke-width="0.5"/>
<rect x="153.60000000000002" y="291.3" width="9.799999999999978" height="42.000000000000014" fill="#9e4c42" stroke="#7a2e24" stroke-width="0.6"/>
<line x1="156.7" y1="290.5" x2="160.3" y2="290.5" stroke="#e6b8b0" stroke-width="0.5"/>
<rect x="165.8" y="290.0" width="9.4" height="43.300000000000026" fill="#4658a4" stroke="#2a3a82" stroke-width="0.6"/>
<line x1="170.5" y1="288.6" x2="170.5" y2="289.7" stroke="#7d8dd0" stroke-width="0.6"/>
<line x1="168.7" y1="288.6" x2="172.3" y2="288.6" stroke="#7d8dd0" stroke-width="0.6"/>
<rect x="183.10000000000002" y="302.2" width="9.499999999999995" height="31.100000000000033" fill="#9e4c42" stroke="#7a2e24" stroke-width="0.6"/>
<line x1="186.05" y1="301.4" x2="189.65000000000003" y2="301.4" stroke="#e6b8b0" stroke-width="0.5"/>
<rect x="195.0" y="292.2" width="9.4" height="41.10000000000004" fill="#4658a4" stroke="#2a3a82" stroke-width="0.6"/>
<line x1="199.7" y1="290" x2="199.7" y2="291.9" stroke="#7d8dd0" stroke-width="0.6"/>
<line x1="197.89999999999998" y1="290" x2="201.5" y2="290" stroke="#7d8dd0" stroke-width="0.6"/>
<line x1="119.3" y1="333.3" x2="211" y2="333.3" stroke="#222" stroke-width="0.9"/>
<line x1="135.4" y1="333.3" x2="135.4" y2="334.90000000000003" stroke="#222" stroke-width="0.8"/>
<line x1="164.3" y1="333.3" x2="164.3" y2="334.90000000000003" stroke="#222" stroke-width="0.8"/>
<line x1="193.8" y1="333.3" x2="193.8" y2="334.90000000000003" stroke="#222" stroke-width="0.8"/>
<line x1="129.7" y1="283.3" x2="141.5" y2="283.3" stroke="#1a1a1a" stroke-width="1.1"/>
<circle cx="133.90" cy="279.70" r="1.05" fill="#111"/>
<circle cx="137.30" cy="279.70" r="1.05" fill="#111"/>
<line x1="158.2" y1="283.3" x2="170" y2="283.3" stroke="#1a1a1a" stroke-width="1.1"/>
<text x="164.1" y="281.3" font-size="4.5" fill="#222" stroke="#222" stroke-width="0.068" text-anchor="middle" font-weight="normal" font-style="normal" >ns</text>
<line x1="188" y1="283.3" x2="199.3" y2="283.3" stroke="#1a1a1a" stroke-width="1.1"/>
<circle cx="191.95" cy="279.70" r="1.05" fill="#111"/>
<circle cx="195.35" cy="279.70" r="1.05" fill="#111"/>
<text x="135.4" y="339.8" font-size="3.9" fill="#000" stroke="#000" stroke-width="0.058" text-anchor="middle" font-weight="bold" font-style="normal" >untreated</text>
<text x="164.3" y="339.8" font-size="3.9" fill="#000" stroke="#000" stroke-width="0.058" text-anchor="middle" font-weight="bold" font-style="normal" >CQ</text>
<text x="193.8" y="339.8" font-size="3.9" fill="#000" stroke="#000" stroke-width="0.058" text-anchor="middle" font-weight="bold" font-style="normal" >MG132</text>
<rect x="141.9" y="343.3" width="5.8" height="2.8" fill="#9e4c42" stroke="none" stroke-width="0"/>
<text x="150.50000000000003" y="346.356" font-size="4.6" fill="#222" stroke="#222" stroke-width="0.069" text-anchor="start" font-weight="normal" font-style="normal" >WT</text>
<rect x="173.7" y="343.3" width="5.8" height="2.8" fill="#4658a4" stroke="none" stroke-width="0"/>
<text x="182.3" y="346.356" font-size="4.6" fill="#222" stroke="#222" stroke-width="0.069" text-anchor="start" font-weight="normal" font-style="normal" >KO</text>
<text x="112.1" y="305" font-size="3.65" fill="#000" stroke="#000" stroke-width="0.055" text-anchor="middle" font-weight="bold" font-style="normal" transform="rotate(-90 112.1 305)" >gMFI of H-2K<tspan font-size="2.4" dy="-1.2">b</tspan><tspan dy="1.2">-SIINFEKL (x10</tspan><tspan font-size="2.4" dy="-1.2">3</tspan><tspan dy="1.2">)</tspan></text>
<text x="218.2" y="272.7" font-size="10.4" fill="#1a1a1a" stroke="#1a1a1a" stroke-width="0.250" text-anchor="start" font-weight="normal" font-style="normal" >H</text>
<rect x="231.3" y="266.4" width="50.3" height="12.8" fill="#fff" stroke="#e6a4a8" stroke-width="0.5"/>
<text x="256.5" y="271.6" font-size="4.7" fill="#222" stroke="#222" stroke-width="0.090" text-anchor="middle" font-weight="normal" font-style="normal" >OVA-loaded</text>
<text x="256.5" y="277.1" font-size="4.7" fill="#222" stroke="#222" stroke-width="0.090" text-anchor="middle" font-weight="normal" font-style="normal" >WT or Hk3-KO BMDMs</text>
<rect x="286.8" y="266.4" width="40.3" height="13.0" fill="#fff" stroke="#a9c2ea" stroke-width="0.5"/>
<text x="307" y="271.9" font-size="4.6" fill="#222" stroke="#222" stroke-width="0.090" text-anchor="middle" font-weight="normal" font-style="normal" >CD8 naive T cells</text>
<text x="307" y="277.4" font-size="4.6" fill="#222" stroke="#222" stroke-width="0.090" text-anchor="middle" font-weight="normal" font-style="normal" >from OT-I mice</text>
<path d="M278.76,293.74 Q278.76,293.74 278.14,295.15 Q277.52,296.55 276.17,297.39 Q274.81,298.23 273.93,299.37 Q273.05,300.50 271.84,301.46 Q270.63,302.42 269.07,302.48 Q267.51,302.55 266.07,302.13 Q264.64,301.71 263.22,301.41 Q261.80,301.10 260.17,300.77 Q258.54,300.43 257.68,299.11 Q256.82,297.79 256.75,296.23 Q256.67,294.68 255.98,293.38 Q255.29,292.09 255.19,290.60 Q255.10,289.11 255.74,287.75 Q256.38,286.39 257.42,285.34 Q258.46,284.29 259.40,283.14 Q260.34,281.99 261.60,281.02 Q262.86,280.06 264.46,279.89 Q266.05,279.72 267.49,280.50 Q268.92,281.29 270.31,281.59 Q271.71,281.88 273.31,282.20 Q274.92,282.53 275.72,283.85 Q276.53,285.17 276.83,286.61 Q277.12,288.06 277.61,289.39 Q278.10,290.72 278.43,292.23 Z" fill="#eea4a6"/>
<path d="M275.94,296.20 Q275.94,296.20 274.90,297.04 Q273.85,297.87 272.96,298.79 Q272.06,299.71 270.98,300.64 Q269.91,301.58 268.47,301.42 Q267.04,301.25 265.77,300.90 Q264.49,300.55 263.24,300.21 Q261.99,299.87 260.58,299.48 Q259.16,299.10 258.51,297.87 Q257.86,296.64 257.65,295.34 Q257.44,294.04 256.97,292.84 Q256.50,291.63 256.27,290.26 Q256.05,288.89 256.97,287.81 Q257.90,286.72 258.75,285.76 Q259.60,284.79 260.55,283.91 Q261.50,283.03 262.64,282.26 Q263.78,281.49 265.16,281.42 Q266.55,281.36 267.83,281.80 Q269.11,282.24 270.48,282.38 Q271.85,282.52 273.14,283.11 Q274.43,283.71 275.07,284.94 Q275.71,286.18 275.98,287.46 Q276.25,288.73 276.58,289.95 Q276.91,291.17 277.07,292.50 Q277.22,293.83 276.58,295.02 Z" fill="#f5b9b9"/>
<circle cx="265.15" cy="294.70" r="0.3" fill="#c0607a"/>
<circle cx="265.31" cy="289.32" r="0.3" fill="#c0607a"/>
<circle cx="261.20" cy="290.12" r="0.3" fill="#c0607a"/>
<circle cx="273.12" cy="293.81" r="0.3" fill="#c0607a"/>
<circle cx="272.88" cy="292.86" r="0.3" fill="#c0607a"/>
<circle cx="269.39" cy="292.62" r="0.3" fill="#c0607a"/>
<circle cx="259.11" cy="295.35" r="0.3" fill="#c0607a"/>
<circle cx="270.00" cy="294.55" r="0.3" fill="#c0607a"/>
<circle cx="260.36" cy="284.76" r="0.3" fill="#c0607a"/>
<circle cx="261.51" cy="288.61" r="0.3" fill="#c0607a"/>
<circle cx="268.83" cy="291.10" r="0.3" fill="#c0607a"/>
<circle cx="270.02" cy="287.43" r="0.3" fill="#c0607a"/>
<circle cx="268.81" cy="293.97" r="0.3" fill="#c0607a"/>
<circle cx="263.72" cy="299.41" r="0.3" fill="#c0607a"/>
<circle cx="269.85" cy="297.97" r="0.3" fill="#c0607a"/>
<circle cx="263.07" cy="286.96" r="0.3" fill="#c0607a"/>
<circle cx="264.53" cy="290.70" r="0.3" fill="#c0607a"/>
<circle cx="270.81" cy="292.98" r="0.3" fill="#c0607a"/>
<circle cx="264.17" cy="285.77" r="0.3" fill="#c0607a"/>
<circle cx="263.95" cy="298.09" r="0.3" fill="#c0607a"/>
<circle cx="261.82" cy="292.91" r="0.3" fill="#c0607a"/>
<circle cx="268.99" cy="283.76" r="0.3" fill="#c0607a"/>
<circle cx="267.07" cy="298.60" r="0.3" fill="#c0607a"/>
<circle cx="258.02" cy="290.00" r="0.3" fill="#c0607a"/>
<circle cx="266.14" cy="286.34" r="0.3" fill="#c0607a"/>
<circle cx="270.04" cy="290.99" r="0.3" fill="#c0607a"/>
<circle cx="267.8" cy="292" r="5.0" fill="#d45a66"/>
<circle cx="265.30" cy="292.59" r="0.35" fill="#a83444"/>
<circle cx="270.32" cy="294.99" r="0.35" fill="#a83444"/>
<circle cx="270.78" cy="292.12" r="0.35" fill="#a83444"/>
<circle cx="268.76" cy="291.29" r="0.35" fill="#a83444"/>
<circle cx="264.69" cy="290.90" r="0.35" fill="#a83444"/>
<circle cx="270.30" cy="292.66" r="0.35" fill="#a83444"/>
<circle cx="266.99" cy="289.30" r="0.35" fill="#a83444"/>
<circle cx="267.54" cy="290.36" r="0.35" fill="#a83444"/>
<circle cx="267.91" cy="293.40" r="0.35" fill="#a83444"/>
<circle cx="263.77" cy="291.84" r="0.35" fill="#a83444"/>
<circle cx="264.69" cy="290.01" r="0.35" fill="#a83444"/>
<circle cx="265.10" cy="294.42" r="0.35" fill="#a83444"/>
<circle cx="269.62" cy="293.35" r="0.35" fill="#a83444"/>
<circle cx="266.16" cy="288.82" r="0.35" fill="#a83444"/>
<circle cx="262.3" cy="284.9" r="2.4" fill="#fff" stroke="#f0a0a8" stroke-width="0.3"/>
<circle cx="262.3" cy="284.9" r="0.8" fill="#e87080"/>
<circle cx="301.8" cy="291.2" r="9.2" fill="#c9dcf4"/>
<circle cx="301.8" cy="291.2" r="8.46" fill="#d6e5f7"/>
<circle cx="301.8" cy="291.2" r="5.6" fill="#6287cc"/>
<circle cx="299.41" cy="292.37" r="0.28" fill="#3f62a8"/>
<circle cx="302.04" cy="289.39" r="0.28" fill="#3f62a8"/>
<circle cx="302.35" cy="291.94" r="0.28" fill="#3f62a8"/>
<circle cx="304.57" cy="289.88" r="0.28" fill="#3f62a8"/>
<circle cx="297.98" cy="294.45" r="0.28" fill="#3f62a8"/>
<circle cx="305.50" cy="293.00" r="0.28" fill="#3f62a8"/>
<circle cx="304.84" cy="293.90" r="0.28" fill="#3f62a8"/>
<circle cx="298.60" cy="294.81" r="0.28" fill="#3f62a8"/>
<circle cx="304.96" cy="291.75" r="0.28" fill="#3f62a8"/>
<circle cx="302.07" cy="293.55" r="0.28" fill="#3f62a8"/>
<circle cx="302.38" cy="286.30" r="0.28" fill="#3f62a8"/>
<circle cx="302.48" cy="286.54" r="0.28" fill="#3f62a8"/>
<circle cx="297.72" cy="288.66" r="0.28" fill="#3f62a8"/>
<circle cx="303.05" cy="289.93" r="0.28" fill="#3f62a8"/>
<circle cx="298.33" cy="294.80" r="0.28" fill="#3f62a8"/>
<circle cx="298.05" cy="292.92" r="0.28" fill="#3f62a8"/>
<circle cx="304.36" cy="294.18" r="0.28" fill="#3f62a8"/>
<circle cx="300.22" cy="291.05" r="0.28" fill="#3f62a8"/>
<circle cx="297.48" cy="290.02" r="0.28" fill="#3f62a8"/>
<circle cx="301.46" cy="290.28" r="0.28" fill="#3f62a8"/>
<circle cx="299.17" cy="295.23" r="0.28" fill="#3f62a8"/>
<circle cx="306.07" cy="293.17" r="0.28" fill="#3f62a8"/>
<circle cx="302.50" cy="294.17" r="0.28" fill="#3f62a8"/>
<circle cx="305.86" cy="290.19" r="0.28" fill="#3f62a8"/>
<circle cx="302.52" cy="296.01" r="0.28" fill="#3f62a8"/>
<circle cx="299.49" cy="292.98" r="0.28" fill="#3f62a8"/>
<circle cx="303.84" cy="294.25" r="0.28" fill="#3f62a8"/>
<circle cx="299.14" cy="294.66" r="0.28" fill="#3f62a8"/>
<circle cx="297.47" cy="289.67" r="0.28" fill="#3f62a8"/>
<circle cx="300.19" cy="288.87" r="0.28" fill="#3f62a8"/>
<circle cx="301.97" cy="287.70" r="0.28" fill="#3f62a8"/>
<circle cx="298.64" cy="293.42" r="0.28" fill="#3f62a8"/>
<circle cx="302.43" cy="288.27" r="0.28" fill="#3f62a8"/>
<circle cx="303.55" cy="287.17" r="0.28" fill="#3f62a8"/>
<circle cx="305.98" cy="288.43" r="0.28" fill="#3f62a8"/>
<circle cx="301.09" cy="290.37" r="0.28" fill="#3f62a8"/>
<circle cx="303.90" cy="293.36" r="0.28" fill="#3f62a8"/>
<circle cx="301.35" cy="291.13" r="0.28" fill="#3f62a8"/>
<circle cx="303.38" cy="295.46" r="0.28" fill="#3f62a8"/>
<circle cx="302.69" cy="287.44" r="0.28" fill="#3f62a8"/>
<circle cx="302.22" cy="292.65" r="0.28" fill="#3f62a8"/>
<circle cx="301.33" cy="289.63" r="0.28" fill="#3f62a8"/>
<circle cx="303.91" cy="291.41" r="0.28" fill="#3f62a8"/>
<circle cx="306.42" cy="293.15" r="0.28" fill="#3f62a8"/>
<text x="257.2" y="308.9" font-size="4.65" fill="#222" stroke="#222" stroke-width="0.090" text-anchor="middle" font-weight="normal" font-style="normal" >fixed by PFA</text>
<path d="M266,303 Q270,311 282.5,313.2" fill="none" stroke="#e47a7a" stroke-width="0.5"/>
<path d="M281.8,312.1 L283.8,313.5 L281.6,314.3 Z" fill="#d9505a"/>
<path d="M297.5,301 Q295,309 290.3,312.8" fill="none" stroke="#7d8fd2" stroke-width="0.5"/>
<path d="M289.3,311.9 L289.6,314 L291.4,312.9 Z" fill="#5a6cc0"/>
<path d="M276.09999999999997,313.5 L276.7,314.40000000000003 L276.7,325.0 Q276.7,326.2 277.9,326.2 L294.40000000000003,326.2 Q295.6,326.2 295.6,325.0 L295.6,314.40000000000003 L296.20000000000005,313.5" fill="#fbdfe3" stroke="#a5c5ea" stroke-width="0.7"/>
<circle cx="282.8" cy="320.4" r="3.0" fill="#f6b4bc"/><circle cx="282.8" cy="320.4" r="1.35" fill="#d9485a"/>
<circle cx="289.5" cy="320.3" r="2.5" fill="#6a8ed0"/>
<circle cx="290.54" cy="321.26" r="0.25" fill="#3d5ea8"/>
<circle cx="287.65" cy="320.16" r="0.25" fill="#3d5ea8"/>
<circle cx="290.26" cy="320.87" r="0.25" fill="#3d5ea8"/>
<circle cx="288.30" cy="319.42" r="0.25" fill="#3d5ea8"/>
<circle cx="289.81" cy="318.85" r="0.25" fill="#3d5ea8"/>
<circle cx="289.29" cy="318.56" r="0.25" fill="#3d5ea8"/>
<circle cx="283" cy="313.6" r="0.45" fill="#d9505a"/><circle cx="289.5" cy="313.6" r="0.45" fill="#5a6cc0"/>
<path d="M297.4,318.84999999999997 L305.7,318.84999999999997 L305.7,317.59999999999997 L308.7,319.7 L305.7,321.8 L305.7,320.55 L297.4,320.55 Z" fill="#fff" stroke="#777" stroke-width="0.45"/>
<line x1="298.4" y1="319.7" x2="299.2" y2="319.7" stroke="#999" stroke-width="0.5"/>
<line x1="300.0" y1="319.7" x2="300.8" y2="319.7" stroke="#999" stroke-width="0.5"/>
<line x1="301.59999999999997" y1="319.7" x2="302.4" y2="319.7" stroke="#999" stroke-width="0.5"/>
<line x1="303.2" y1="319.7" x2="304.0" y2="319.7" stroke="#999" stroke-width="0.5"/>
<text x="310.6" y="321.34999999999997" font-size="4.6" fill="#222" stroke="#222" stroke-width="0.090" text-anchor="start" font-weight="normal" font-style="normal" >FACS</text>
<rect x="230.2" y="316.1" width="38.3" height="7.0" fill="#fff" stroke="#d9b9c2" stroke-width="0.5"/>
<text x="249.3" y="321.3" font-size="4.8" fill="#222" stroke="#222" stroke-width="0.090" text-anchor="middle" font-weight="normal" font-style="normal" >TC-1-OVA cells</text>
<path d="M240.5,332 C240,329 242.5,327 245,327.5 C247,326 251,325.8 253.5,327.2 C256.5,327.5 258,330 257,332.5 C258,335 256,337.5 253.5,337.8 C252.5,340.5 248.5,341 247,339 C244.5,340 241,338.5 241.5,336 C239.5,335 239.5,333 240.5,332 Z" fill="#cdb1e0"/>
<circle cx="248.50" cy="338.77" r="0.3" fill="#a888c8"/>
<circle cx="246.39" cy="327.92" r="0.3" fill="#a888c8"/>
<circle cx="250.03" cy="336.27" r="0.3" fill="#a888c8"/>
<circle cx="250.66" cy="335.86" r="0.3" fill="#a888c8"/>
<circle cx="248.56" cy="331.07" r="0.3" fill="#a888c8"/>
<circle cx="245.85" cy="332.81" r="0.3" fill="#a888c8"/>
<circle cx="247.62" cy="337.50" r="0.3" fill="#a888c8"/>
<circle cx="251.45" cy="329.08" r="0.3" fill="#a888c8"/>
<circle cx="252.20" cy="333.71" r="0.3" fill="#a888c8"/>
<circle cx="252.47" cy="338.23" r="0.3" fill="#a888c8"/>
<circle cx="250.94" cy="327.97" r="0.3" fill="#a888c8"/>
<circle cx="251.39" cy="328.42" r="0.3" fill="#a888c8"/>
<circle cx="254.30" cy="331.59" r="0.3" fill="#a888c8"/>
<circle cx="248.55" cy="339.39" r="0.3" fill="#a888c8"/>
<circle cx="243.17" cy="333.87" r="0.3" fill="#a888c8"/>
<circle cx="244.88" cy="331.73" r="0.3" fill="#a888c8"/>
<circle cx="246.00" cy="336.61" r="0.3" fill="#a888c8"/>
<circle cx="247.93" cy="335.45" r="0.3" fill="#a888c8"/>
<ellipse cx="248.8" cy="332" rx="3.4" ry="2.8" fill="#9a70c2"/>
<circle cx="246.49" cy="331.68" r="0.3" fill="#7a50a8"/>
<circle cx="250.16" cy="331.66" r="0.3" fill="#7a50a8"/>
<circle cx="249.02" cy="329.83" r="0.3" fill="#7a50a8"/>
<circle cx="248.34" cy="331.27" r="0.3" fill="#7a50a8"/>
<circle cx="250.39" cy="332.27" r="0.3" fill="#7a50a8"/>
<circle cx="248.77" cy="330.69" r="0.3" fill="#7a50a8"/>
<circle cx="247.34" cy="331.99" r="0.3" fill="#7a50a8"/>
<circle cx="250.24" cy="329.92" r="0.3" fill="#7a50a8"/>
<path d="M287.2,326.8 Q286,342 271.2,345.6" fill="none" stroke="#8a98d8" stroke-width="0.5"/>
<path d="M249.6,340.6 Q253,345.4 262.6,345.8" fill="none" stroke="#b08ad0" stroke-width="0.5"/>
<circle cx="262.3" cy="345.8" r="0.5" fill="#7a50a8"/><circle cx="270.6" cy="345.8" r="0.5" fill="#5a6cc0"/>
<circle cx="289.3" cy="337.4" r="3.6" fill="#c9dcf4"/>
<circle cx="289.3" cy="337.4" r="3.31" fill="#d6e5f7"/>
<circle cx="289.3" cy="337.4" r="2.6" fill="#6287cc"/>
<circle cx="290.86" cy="336.10" r="0.28" fill="#3f62a8"/>
<circle cx="288.78" cy="335.68" r="0.28" fill="#3f62a8"/>
<circle cx="289.82" cy="336.47" r="0.28" fill="#3f62a8"/>
<circle cx="290.21" cy="335.54" r="0.28" fill="#3f62a8"/>
<circle cx="288.20" cy="338.68" r="0.28" fill="#3f62a8"/>
<circle cx="288.59" cy="337.03" r="0.28" fill="#3f62a8"/>
<circle cx="288.64" cy="336.81" r="0.28" fill="#3f62a8"/>
<circle cx="289.85" cy="336.60" r="0.28" fill="#3f62a8"/>
<circle cx="289.43" cy="339.27" r="0.28" fill="#3f62a8"/>
<circle cx="288.14" cy="338.30" r="0.28" fill="#3f62a8"/>
<circle cx="291.47" cy="336.80" r="0.28" fill="#3f62a8"/>
<circle cx="290.79" cy="336.42" r="0.28" fill="#3f62a8"/>
<circle cx="287.62" cy="336.22" r="0.28" fill="#3f62a8"/>
<circle cx="288.56" cy="339.07" r="0.28" fill="#3f62a8"/>
<circle cx="290.41" cy="338.96" r="0.28" fill="#3f62a8"/>
<circle cx="288.39" cy="337.33" r="0.28" fill="#3f62a8"/>
<circle cx="288.06" cy="337.12" r="0.28" fill="#3f62a8"/>
<circle cx="289.15" cy="337.52" r="0.28" fill="#3f62a8"/>
<circle cx="289.69" cy="339.00" r="0.28" fill="#3f62a8"/>
<circle cx="289.30" cy="335.51" r="0.28" fill="#3f62a8"/>
<path d="M255.79999999999998,346.0 L256.4,346.90000000000003 L256.4,357.0 Q256.4,358.2 257.59999999999997,358.2 L273.8,358.2 Q275.0,358.2 275.0,357.0 L275.0,346.90000000000003 L275.6,346.0" fill="#fbdfe3" stroke="#a5c5ea" stroke-width="0.7"/>
<circle cx="262.0" cy="352.0" r="3.0" fill="#cfb2e2"/><circle cx="262.0" cy="352.0" r="1.50" fill="#9a6cc4"/>
<circle cx="271.0" cy="352.0" r="2.6" fill="#6a8ed0"/>
<circle cx="271.96" cy="351.34" r="0.25" fill="#3d5ea8"/>
<circle cx="272.35" cy="351.45" r="0.25" fill="#3d5ea8"/>
<circle cx="272.34" cy="353.15" r="0.25" fill="#3d5ea8"/>
<circle cx="271.77" cy="350.78" r="0.25" fill="#3d5ea8"/>
<circle cx="270.43" cy="353.59" r="0.25" fill="#3d5ea8"/>
<circle cx="270.04" cy="353.02" r="0.25" fill="#3d5ea8"/>
<path d="M277.2,350.84999999999997 L286.3,350.84999999999997 L286.3,349.59999999999997 L289.3,351.7 L286.3,353.8 L286.3,352.55 L277.2,352.55 Z" fill="#fff" stroke="#777" stroke-width="0.45"/>
<line x1="278.2" y1="351.7" x2="279.0" y2="351.7" stroke="#999" stroke-width="0.5"/>
<line x1="279.8" y1="351.7" x2="280.6" y2="351.7" stroke="#999" stroke-width="0.5"/>
<line x1="281.4" y1="351.7" x2="282.2" y2="351.7" stroke="#999" stroke-width="0.5"/>
<line x1="283.0" y1="351.7" x2="283.8" y2="351.7" stroke="#999" stroke-width="0.5"/>
<text x="291.3" y="353.34999999999997" font-size="4.6" fill="#222" stroke="#222" stroke-width="0.090" text-anchor="start" font-weight="normal" font-style="normal" >FACS</text>
<text x="2.6" y="371" font-size="10.4" fill="#1a1a1a" stroke="#1a1a1a" stroke-width="0.250" text-anchor="start" font-weight="normal" font-style="normal" >I</text>
<line x1="24.6" y1="372.0" x2="24.6" y2="426.2" stroke="#777" stroke-width="0.9"/>
<line x1="22.6" y1="372.4" x2="24.6" y2="372.4" stroke="#777" stroke-width="0.8"/>
<text x="21.700000000000003" y="373.84999999999997" font-size="4.0" fill="#222" stroke="#222" stroke-width="0.060" text-anchor="end" font-weight="bold" font-style="normal" >20</text>
<line x1="22.6" y1="386.1" x2="24.6" y2="386.1" stroke="#777" stroke-width="0.8"/>
<text x="21.700000000000003" y="387.55" font-size="4.0" fill="#222" stroke="#222" stroke-width="0.060" text-anchor="end" font-weight="bold" font-style="normal" >15</text>
<line x1="22.6" y1="399.2" x2="24.6" y2="399.2" stroke="#777" stroke-width="0.8"/>
<text x="21.700000000000003" y="400.65" font-size="4.0" fill="#222" stroke="#222" stroke-width="0.060" text-anchor="end" font-weight="bold" font-style="normal" >10</text>
<line x1="22.6" y1="412.9" x2="24.6" y2="412.9" stroke="#777" stroke-width="0.8"/>
<text x="21.700000000000003" y="414.34999999999997" font-size="4.0" fill="#222" stroke="#222" stroke-width="0.060" text-anchor="end" font-weight="bold" font-style="normal" >5</text>
<line x1="22.6" y1="426" x2="24.6" y2="426" stroke="#777" stroke-width="0.8"/>
<text x="21.700000000000003" y="427.45" font-size="4.0" fill="#222" stroke="#222" stroke-width="0.060" text-anchor="end" font-weight="bold" font-style="normal" >0</text>
<rect x="30.400000000000002" y="413.2" width="9.4" height="12.600000000000033" fill="#9e4c42" stroke="#7a2e24" stroke-width="0.6"/>
<line x1="33.300000000000004" y1="412.4" x2="36.9" y2="412.4" stroke="#e6b8b0" stroke-width="0.5"/>
<rect x="42.599999999999994" y="395.5" width="9.100000000000003" height="30.300000000000022" fill="#4658a4" stroke="#2a3a82" stroke-width="0.6"/>
<line x1="45.35" y1="394.7" x2="48.949999999999996" y2="394.7" stroke="#b0bce6" stroke-width="0.5"/>
<rect x="59.5" y="399.5" width="8.999999999999995" height="26.300000000000022" fill="#9e4c42" stroke="#7a2e24" stroke-width="0.6"/>
<line x1="62.2" y1="398.7" x2="65.8" y2="398.7" stroke="#e6b8b0" stroke-width="0.5"/>
<rect x="71.7" y="386.3" width="8.499999999999995" height="39.500000000000014" fill="#4658a4" stroke="#2a3a82" stroke-width="0.6"/>
<line x1="75.95" y1="384.6" x2="75.95" y2="386" stroke="#7d8dd0" stroke-width="0.6"/>
<line x1="74.15" y1="384.6" x2="77.75" y2="384.6" stroke="#7d8dd0" stroke-width="0.6"/>
<line x1="24.6" y1="425.8" x2="86" y2="425.8" stroke="#888" stroke-width="0.9"/>
<line x1="41" y1="425.8" x2="41" y2="427.40000000000003" stroke="#888" stroke-width="0.8"/>
<line x1="70" y1="425.8" x2="70" y2="427.40000000000003" stroke="#888" stroke-width="0.8"/>
<line x1="35" y1="378.2" x2="47.1" y2="378.2" stroke="#1a1a1a" stroke-width="1.1"/>
<circle cx="37.65" cy="374.60" r="1.05" fill="#111"/>
<circle cx="41.05" cy="374.60" r="1.05" fill="#111"/>
<circle cx="44.45" cy="374.60" r="1.05" fill="#111"/>
<line x1="64.6" y1="378.2" x2="75.6" y2="378.2" stroke="#1a1a1a" stroke-width="1.1"/>
<circle cx="66.70" cy="374.60" r="1.05" fill="#111"/>
<circle cx="70.10" cy="374.60" r="1.05" fill="#111"/>
<circle cx="73.50" cy="374.60" r="1.05" fill="#111"/>
<text x="41" y="431.2" font-size="3.9" fill="#000" stroke="#000" stroke-width="0.058" text-anchor="middle" font-weight="bold" font-style="normal" >CD25</text>
<text x="70" y="431.2" font-size="3.9" fill="#000" stroke="#000" stroke-width="0.058" text-anchor="middle" font-weight="bold" font-style="normal" >CD69</text>
<rect x="34.1" y="436.7" width="5.6" height="2.4" fill="#9e4c42" stroke="none" stroke-width="0"/>
<text x="42.5" y="439.448" font-size="4.3" fill="#222" stroke="#222" stroke-width="0.065" text-anchor="start" font-weight="normal" font-style="normal" >WT</text>
<rect x="63.3" y="436.7" width="5.6" height="2.4" fill="#4658a4" stroke="none" stroke-width="0"/>
<text x="71.69999999999999" y="439.448" font-size="4.3" fill="#222" stroke="#222" stroke-width="0.065" text-anchor="start" font-weight="normal" font-style="normal" >KO</text>
<text x="14.4" y="399" font-size="4.3" fill="#000" stroke="#000" stroke-width="0.065" text-anchor="middle" font-weight="bold" font-style="normal" transform="rotate(-90 14.4 399)" >% in CD8<tspan font-size="2.6" dy="-1.3">+</tspan><tspan dy="1.3"> T cells</tspan></text>
<text x="92.6" y="372.0" font-size="10.4" fill="#1a1a1a" stroke="#1a1a1a" stroke-width="0.250" text-anchor="start" font-weight="normal" font-style="normal" >J</text>
<rect x="109.3" y="380.3" width="40.89999999999999" height="39.69999999999999" fill="none" stroke="#b8b8b8" stroke-width="0.45"/>
<g filter="url(#blur03)"><rect x="117.30" y="391.50" width="7.05" height="0.55" fill="#1a1ae0"/><rect x="116.30" y="392.00" width="9.05" height="0.55" fill="#1a1ae0"/><rect x="115.80" y="392.50" width="19.55" height="0.55" fill="#1a1ae0"/><rect x="115.30" y="393.00" width="21.05" height="0.55" fill="#1a1ae0"/><rect x="115.30" y="393.50" width="22.05" height="0.55" fill="#1a1ae0"/><rect x="115.30" y="394.00" width="22.55" height="0.55" fill="#1a1ae0"/><rect x="114.80" y="394.50" width="24.05" height="0.55" fill="#1a1ae0"/><rect x="114.80" y="395.00" width="24.55" height="0.55" fill="#1a1ae0"/><rect x="114.80" y="395.50" width="23.55" height="0.55" fill="#1a1ae0"/><rect x="114.80" y="396.00" width="23.05" height="0.55" fill="#1a1ae0"/><rect x="114.80" y="396.50" width="22.05" height="0.55" fill="#1a1ae0"/><rect x="114.80" y="397.00" width="21.55" height="0.55" fill="#1a1ae0"/><rect x="114.80" y="397.50" width="21.05" height="0.55" fill="#1a1ae0"/><rect x="114.30" y="398.00" width="20.05" height="0.55" fill="#1a1ae0"/><rect x="114.30" y="398.50" width="17.55" height="0.55" fill="#1a1ae0"/><rect x="114.30" y="399.00" width="15.05" height="0.55" fill="#1a1ae0"/><rect x="114.30" y="399.50" width="12.55" height="0.55" fill="#1a1ae0"/><rect x="114.30" y="400.00" width="11.05" height="0.55" fill="#1a1ae0"/><rect x="114.30" y="400.50" width="10.55" height="0.55" fill="#1a1ae0"/><rect x="114.30" y="401.00" width="10.05" height="0.55" fill="#1a1ae0"/><rect x="114.30" y="401.50" width="9.55" height="0.55" fill="#1a1ae0"/><rect x="114.80" y="402.00" width="8.05" height="0.55" fill="#1a1ae0"/><rect x="115.80" y="402.50" width="5.55" height="0.55" fill="#1a1ae0"/><rect x="117.80" y="392.00" width="5.55" height="0.55" fill="#0058ff"/><rect x="116.80" y="392.50" width="7.55" height="0.55" fill="#0058ff"/><rect x="116.30" y="393.00" width="19.55" height="0.55" fill="#0058ff"/><rect x="116.30" y="393.50" width="20.55" height="0.55" fill="#0058ff"/><rect x="115.80" y="394.00" width="22.05" height="0.55" fill="#0058ff"/><rect x="115.80" y="394.50" width="22.55" height="0.55" fill="#0058ff"/><rect x="115.80" y="395.00" width="23.55" height="0.55" fill="#0058ff"/><rect x="115.80" y="395.50" width="22.55" height="0.55" fill="#0058ff"/><rect x="115.80" y="396.00" width="21.55" height="0.55" fill="#0058ff"/><rect x="115.80" y="396.50" width="21.05" height="0.55" fill="#0058ff"/><rect x="115.30" y="397.00" width="20.55" height="0.55" fill="#0058ff"/><rect x="115.30" y="397.50" width="19.55" height="0.55" fill="#0058ff"/><rect x="115.30" y="398.00" width="16.55" height="0.55" fill="#0058ff"/><rect x="114.80" y="398.50" width="14.55" height="0.55" fill="#0058ff"/><rect x="114.80" y="399.00" width="11.55" height="0.55" fill="#0058ff"/><rect x="114.80" y="399.50" width="10.05" height="0.55" fill="#0058ff"/><rect x="114.80" y="400.00" width="9.55" height="0.55" fill="#0058ff"/><rect x="114.80" y="400.50" width="9.05" height="0.55" fill="#0058ff"/><rect x="115.30" y="401.00" width="8.05" height="0.55" fill="#0058ff"/><rect x="115.80" y="401.50" width="6.55" height="0.55" fill="#0058ff"/><rect x="118.30" y="392.50" width="4.55" height="0.55" fill="#00a0ff"/><rect x="117.30" y="393.00" width="6.55" height="0.55" fill="#00a0ff"/><rect x="116.80" y="393.50" width="7.55" height="0.55" fill="#00a0ff"/><rect x="128.30" y="393.50" width="7.55" height="0.55" fill="#00a0ff"/><rect x="116.80" y="394.00" width="20.55" height="0.55" fill="#00a0ff"/><rect x="116.30" y="394.50" width="22.05" height="0.55" fill="#00a0ff"/><rect x="116.30" y="395.00" width="23.05" height="0.55" fill="#00a0ff"/><rect x="116.30" y="395.50" width="21.55" height="0.55" fill="#00a0ff"/><rect x="116.30" y="396.00" width="20.55" height="0.55" fill="#00a0ff"/><rect x="116.30" y="396.50" width="19.55" height="0.55" fill="#00a0ff"/><rect x="116.30" y="397.00" width="18.55" height="0.55" fill="#00a0ff"/><rect x="115.80" y="397.50" width="16.05" height="0.55" fill="#00a0ff"/><rect x="115.80" y="398.00" width="12.55" height="0.55" fill="#00a0ff"/><rect x="115.80" y="398.50" width="9.55" height="0.55" fill="#00a0ff"/><rect x="115.80" y="399.00" width="8.55" height="0.55" fill="#00a0ff"/><rect x="115.80" y="399.50" width="8.05" height="0.55" fill="#00a0ff"/><rect x="115.80" y="400.00" width="7.55" height="0.55" fill="#00a0ff"/><rect x="115.80" y="400.50" width="7.05" height="0.55" fill="#00a0ff"/><rect x="116.80" y="401.00" width="4.55" height="0.55" fill="#00a0ff"/><rect x="118.80" y="393.00" width="3.55" height="0.55" fill="#00c8ff"/><rect x="117.80" y="393.50" width="6.05" height="0.55" fill="#00c8ff"/><rect x="117.30" y="394.00" width="7.05" height="0.55" fill="#00c8ff"/><rect x="116.80" y="394.50" width="7.55" height="0.55" fill="#00c8ff"/><rect x="116.80" y="395.00" width="7.55" height="0.55" fill="#00c8ff"/><rect x="116.80" y="395.50" width="8.05" height="0.55" fill="#00c8ff"/><rect x="116.80" y="396.00" width="8.05" height="0.55" fill="#00c8ff"/><rect x="116.80" y="396.50" width="8.05" height="0.55" fill="#00c8ff"/><rect x="116.80" y="397.00" width="7.55" height="0.55" fill="#00c8ff"/><rect x="116.30" y="397.50" width="8.05" height="0.55" fill="#00c8ff"/><rect x="116.30" y="398.00" width="7.55" height="0.55" fill="#00c8ff"/><rect x="116.30" y="398.50" width="7.55" height="0.55" fill="#00c8ff"/><rect x="116.30" y="399.00" width="7.05" height="0.55" fill="#00c8ff"/><rect x="116.30" y="399.50" width="6.55" height="0.55" fill="#00c8ff"/><rect x="116.80" y="400.00" width="5.55" height="0.55" fill="#00c8ff"/><rect x="117.30" y="400.50" width="3.55" height="0.55" fill="#00c8ff"/><rect x="118.30" y="393.50" width="4.05" height="0.55" fill="#20f080"/><rect x="117.80" y="394.00" width="5.55" height="0.55" fill="#20f080"/><rect x="117.30" y="394.50" width="6.55" height="0.55" fill="#20f080"/><rect x="117.30" y="395.00" width="6.55" height="0.55" fill="#20f080"/><rect x="117.30" y="395.50" width="6.55" height="0.55" fill="#20f080"/><rect x="117.30" y="396.00" width="6.55" height="0.55" fill="#20f080"/><rect x="117.30" y="396.50" width="6.55" height="0.55" fill="#20f080"/><rect x="117.30" y="397.00" width="6.55" height="0.55" fill="#20f080"/><rect x="117.30" y="397.50" width="6.55" height="0.55" fill="#20f080"/><rect x="116.80" y="398.00" width="6.55" height="0.55" fill="#20f080"/><rect x="116.80" y="398.50" width="6.05" height="0.55" fill="#20f080"/><rect x="116.80" y="399.00" width="6.05" height="0.55" fill="#20f080"/><rect x="117.30" y="399.50" width="4.55" height="0.55" fill="#20f080"/><rect x="118.80" y="394.00" width="3.55" height="0.55" fill="#a0f020"/><rect x="118.30" y="394.50" width="4.55" height="0.55" fill="#a0f020"/><rect x="117.80" y="395.00" width="5.55" height="0.55" fill="#a0f020"/><rect x="117.80" y="395.50" width="5.55" height="0.55" fill="#a0f020"/><rect x="117.80" y="396.00" width="5.55" height="0.55" fill="#a0f020"/><rect x="117.80" y="396.50" width="5.55" height="0.55" fill="#a0f020"/><rect x="117.80" y="397.00" width="5.55" height="0.55" fill="#a0f020"/><rect x="117.80" y="397.50" width="5.05" height="0.55" fill="#a0f020"/><rect x="117.80" y="398.00" width="4.55" height="0.55" fill="#a0f020"/><rect x="117.80" y="398.50" width="4.05" height="0.55" fill="#a0f020"/><rect x="118.30" y="399.00" width="3.05" height="0.55" fill="#a0f020"/><rect x="119.30" y="394.00" width="2.05" height="0.55" fill="#ffd000"/><rect x="118.80" y="394.50" width="3.55" height="0.55" fill="#ffd000"/><rect x="118.30" y="395.00" width="4.55" height="0.55" fill="#ffd000"/><rect x="118.30" y="395.50" width="4.55" height="0.55" fill="#ffd000"/><rect x="118.30" y="396.00" width="4.55" height="0.55" fill="#ffd000"/><rect x="118.30" y="396.50" width="4.55" height="0.55" fill="#ffd000"/><rect x="118.30" y="397.00" width="4.05" height="0.55" fill="#ffd000"/><rect x="118.80" y="397.50" width="3.05" height="0.55" fill="#ffd000"/><rect x="118.80" y="398.00" width="2.55" height="0.55" fill="#ffd000"/><rect x="119.30" y="394.50" width="2.05" height="0.55" fill="#ff6000"/><rect x="118.80" y="395.00" width="3.05" height="0.55" fill="#ff6000"/><rect x="118.80" y="395.50" width="3.55" height="0.55" fill="#ff6000"/><rect x="118.80" y="396.00" width="3.55" height="0.55" fill="#ff6000"/><rect x="118.80" y="396.50" width="3.05" height="0.55" fill="#ff6000"/><rect x="119.30" y="397.00" width="2.05" height="0.55" fill="#ff6000"/><rect x="119.30" y="395.00" width="2.05" height="0.55" fill="#f01818"/><rect x="119.30" y="395.50" width="2.55" height="0.55" fill="#f01818"/><rect x="119.30" y="396.00" width="2.05" height="0.55" fill="#f01818"/><rect x="119.80" y="396.50" width="1.05" height="0.55" fill="#f01818"/></g>
<rect x="125.6" y="386.4" width="23.099999999999994" height="20.600000000000023" fill="none" stroke="#555" stroke-width="0.5"/>
<text x="148.79999999999998" y="417.0" font-size="4.6" fill="#222" stroke="#222" stroke-width="0.069" text-anchor="end" font-weight="normal" font-style="normal" >16.4</text>
<line x1="108.3" y1="384.5" x2="109.3" y2="384.5" stroke="#666" stroke-width="0.3"/>
<text x="107.89999999999999" y="385.3" font-size="1.8" fill="#777" text-anchor="end">10<tspan font-size="1.2" dy="-0.6">4</tspan></text>
<line x1="108.3" y1="391.4" x2="109.3" y2="391.4" stroke="#666" stroke-width="0.3"/>
<text x="107.89999999999999" y="392.2" font-size="1.8" fill="#777" text-anchor="end">10<tspan font-size="1.2" dy="-0.6">4</tspan></text>
<line x1="108.3" y1="398.9" x2="109.3" y2="398.9" stroke="#666" stroke-width="0.3"/>
<text x="107.89999999999999" y="399.7" font-size="1.8" fill="#777" text-anchor="end">10<tspan font-size="1.2" dy="-0.6">4</tspan></text>
<line x1="108.3" y1="407.7" x2="109.3" y2="407.7" stroke="#666" stroke-width="0.3"/>
<text x="107.89999999999999" y="408.5" font-size="1.8" fill="#777" text-anchor="end">10<tspan font-size="1.2" dy="-0.6">4</tspan></text>
<line x1="108.3" y1="416" x2="109.3" y2="416" stroke="#666" stroke-width="0.3"/>
<text x="107.89999999999999" y="416.8" font-size="1.8" fill="#777" text-anchor="end">10<tspan font-size="1.2" dy="-0.6">4</tspan></text>
<line x1="114.0" y1="420.0" x2="114.0" y2="421.0" stroke="#666" stroke-width="0.3"/>
<text x="114.0" y="422.6" font-size="1.8" fill="#777" text-anchor="middle">10<tspan font-size="1.2" dy="-0.6">4</tspan></text>
<line x1="119.6" y1="420.0" x2="119.6" y2="421.0" stroke="#666" stroke-width="0.3"/>
<text x="119.6" y="422.6" font-size="1.8" fill="#777" text-anchor="middle">10<tspan font-size="1.2" dy="-0.6">4</tspan></text>
<line x1="126.4" y1="420.0" x2="126.4" y2="421.0" stroke="#666" stroke-width="0.3"/>
<text x="126.4" y="422.6" font-size="1.8" fill="#777" text-anchor="middle">10<tspan font-size="1.2" dy="-0.6">4</tspan></text>
<line x1="136.3" y1="420.0" x2="136.3" y2="421.0" stroke="#666" stroke-width="0.3"/>
<text x="136.3" y="422.6" font-size="1.8" fill="#777" text-anchor="middle">10<tspan font-size="1.2" dy="-0.6">4</tspan></text>
<line x1="144.3" y1="420.0" x2="144.3" y2="421.0" stroke="#666" stroke-width="0.3"/>
<text x="144.3" y="422.6" font-size="1.8" fill="#777" text-anchor="middle">10<tspan font-size="1.2" dy="-0.6">4</tspan></text>
<rect x="108.8" y="406.8" width="1.0" height="1.9" fill="#111" stroke="none" stroke-width="0"/>
<rect x="118.7" y="419.5" width="2.0" height="1.0" fill="#111" stroke="none" stroke-width="0"/>
<rect x="156.3" y="380.3" width="41.19999999999999" height="39.89999999999998" fill="none" stroke="#b8b8b8" stroke-width="0.45"/>
<g filter="url(#blur03)"><rect x="164.20" y="391.50" width="7.05" height="0.55" fill="#1a1ae0"/><rect x="163.20" y="392.00" width="9.05" height="0.55" fill="#1a1ae0"/><rect x="162.70" y="392.50" width="23.55" height="0.55" fill="#1a1ae0"/><rect x="162.20" y="393.00" width="25.05" height="0.55" fill="#1a1ae0"/><rect x="162.20" y="393.50" width="25.55" height="0.55" fill="#1a1ae0"/><rect x="162.20" y="394.00" width="26.55" height="0.55" fill="#1a1ae0"/><rect x="161.70" y="394.50" width="28.05" height="0.55" fill="#1a1ae0"/><rect x="161.70" y="395.00" width="28.55" height="0.55" fill="#1a1ae0"/><rect x="161.70" y="395.50" width="27.55" height="0.55" fill="#1a1ae0"/><rect x="161.70" y="396.00" width="27.05" height="0.55" fill="#1a1ae0"/><rect x="161.70" y="396.50" width="26.05" height="0.55" fill="#1a1ae0"/><rect x="161.70" y="397.00" width="25.55" height="0.55" fill="#1a1ae0"/><rect x="161.70" y="397.50" width="25.05" height="0.55" fill="#1a1ae0"/><rect x="161.20" y="398.00" width="24.55" height="0.55" fill="#1a1ae0"/><rect x="161.20" y="398.50" width="21.05" height="0.55" fill="#1a1ae0"/><rect x="161.20" y="399.00" width="17.55" height="0.55" fill="#1a1ae0"/><rect x="161.20" y="399.50" width="14.05" height="0.55" fill="#1a1ae0"/><rect x="161.20" y="400.00" width="11.05" height="0.55" fill="#1a1ae0"/><rect x="161.20" y="400.50" width="10.55" height="0.55" fill="#1a1ae0"/><rect x="161.20" y="401.00" width="10.05" height="0.55" fill="#1a1ae0"/><rect x="161.20" y="401.50" width="9.55" height="0.55" fill="#1a1ae0"/><rect x="161.70" y="402.00" width="8.05" height="0.55" fill="#1a1ae0"/><rect x="162.70" y="402.50" width="5.55" height="0.55" fill="#1a1ae0"/><rect x="165.20" y="392.00" width="5.05" height="0.55" fill="#0058ff"/><rect x="163.70" y="392.50" width="7.55" height="0.55" fill="#0058ff"/><rect x="163.20" y="393.00" width="23.55" height="0.55" fill="#0058ff"/><rect x="163.20" y="393.50" width="24.55" height="0.55" fill="#0058ff"/><rect x="162.70" y="394.00" width="26.05" height="0.55" fill="#0058ff"/><rect x="162.70" y="394.50" width="26.55" height="0.55" fill="#0058ff"/><rect x="162.70" y="395.00" width="27.55" height="0.55" fill="#0058ff"/><rect x="162.70" y="395.50" width="26.55" height="0.55" fill="#0058ff"/><rect x="162.70" y="396.00" width="25.55" height="0.55" fill="#0058ff"/><rect x="162.70" y="396.50" width="25.05" height="0.55" fill="#0058ff"/><rect x="162.20" y="397.00" width="24.55" height="0.55" fill="#0058ff"/><rect x="162.20" y="397.50" width="24.05" height="0.55" fill="#0058ff"/><rect x="162.20" y="398.00" width="20.55" height="0.55" fill="#0058ff"/><rect x="161.70" y="398.50" width="17.55" height="0.55" fill="#0058ff"/><rect x="161.70" y="399.00" width="13.55" height="0.55" fill="#0058ff"/><rect x="161.70" y="399.50" width="10.05" height="0.55" fill="#0058ff"/><rect x="161.70" y="400.00" width="9.55" height="0.55" fill="#0058ff"/><rect x="161.70" y="400.50" width="9.05" height="0.55" fill="#0058ff"/><rect x="162.20" y="401.00" width="8.05" height="0.55" fill="#0058ff"/><rect x="162.70" y="401.50" width="6.55" height="0.55" fill="#0058ff"/><rect x="165.70" y="392.50" width="4.05" height="0.55" fill="#00a0ff"/><rect x="164.20" y="393.00" width="6.55" height="0.55" fill="#00a0ff"/><rect x="163.70" y="393.50" width="23.55" height="0.55" fill="#00a0ff"/><rect x="163.70" y="394.00" width="24.55" height="0.55" fill="#00a0ff"/><rect x="163.20" y="394.50" width="26.05" height="0.55" fill="#00a0ff"/><rect x="163.20" y="395.00" width="27.05" height="0.55" fill="#00a0ff"/><rect x="163.20" y="395.50" width="25.55" height="0.55" fill="#00a0ff"/><rect x="163.20" y="396.00" width="25.05" height="0.55" fill="#00a0ff"/><rect x="163.20" y="396.50" width="24.05" height="0.55" fill="#00a0ff"/><rect x="163.20" y="397.00" width="23.05" height="0.55" fill="#00a0ff"/><rect x="162.70" y="397.50" width="20.55" height="0.55" fill="#00a0ff"/><rect x="162.70" y="398.00" width="16.55" height="0.55" fill="#00a0ff"/><rect x="162.70" y="398.50" width="12.55" height="0.55" fill="#00a0ff"/><rect x="162.70" y="399.00" width="8.55" height="0.55" fill="#00a0ff"/><rect x="162.70" y="399.50" width="8.05" height="0.55" fill="#00a0ff"/><rect x="162.70" y="400.00" width="7.55" height="0.55" fill="#00a0ff"/><rect x="162.70" y="400.50" width="7.05" height="0.55" fill="#00a0ff"/><rect x="163.70" y="401.00" width="4.55" height="0.55" fill="#00a0ff"/><rect x="165.70" y="393.00" width="4.05" height="0.55" fill="#00c8ff"/><rect x="164.70" y="393.50" width="6.05" height="0.55" fill="#00c8ff"/><rect x="164.20" y="394.00" width="7.05" height="0.55" fill="#00c8ff"/><rect x="171.70" y="394.00" width="15.55" height="0.55" fill="#00c8ff"/><rect x="163.70" y="394.50" width="25.05" height="0.55" fill="#00c8ff"/><rect x="163.70" y="395.00" width="26.55" height="0.55" fill="#00c8ff"/><rect x="163.70" y="395.50" width="25.05" height="0.55" fill="#00c8ff"/><rect x="163.70" y="396.00" width="24.05" height="0.55" fill="#00c8ff"/><rect x="163.70" y="396.50" width="22.55" height="0.55" fill="#00c8ff"/><rect x="163.70" y="397.00" width="19.05" height="0.55" fill="#00c8ff"/><rect x="163.20" y="397.50" width="15.05" height="0.55" fill="#00c8ff"/><rect x="163.20" y="398.00" width="10.55" height="0.55" fill="#00c8ff"/><rect x="163.20" y="398.50" width="7.55" height="0.55" fill="#00c8ff"/><rect x="163.20" y="399.00" width="7.05" height="0.55" fill="#00c8ff"/><rect x="163.20" y="399.50" width="6.55" height="0.55" fill="#00c8ff"/><rect x="163.70" y="400.00" width="5.55" height="0.55" fill="#00c8ff"/><rect x="164.20" y="400.50" width="3.55" height="0.55" fill="#00c8ff"/><rect x="165.70" y="393.50" width="4.05" height="0.55" fill="#20f080"/><rect x="164.70" y="394.00" width="5.55" height="0.55" fill="#20f080"/><rect x="164.70" y="394.50" width="6.05" height="0.55" fill="#20f080"/><rect x="164.20" y="395.00" width="6.55" height="0.55" fill="#20f080"/><rect x="164.20" y="395.50" width="6.55" height="0.55" fill="#20f080"/><rect x="164.20" y="396.00" width="7.05" height="0.55" fill="#20f080"/><rect x="164.20" y="396.50" width="6.55" height="0.55" fill="#20f080"/><rect x="164.20" y="397.00" width="6.55" height="0.55" fill="#20f080"/><rect x="164.20" y="397.50" width="6.55" height="0.55" fill="#20f080"/><rect x="163.70" y="398.00" width="6.55" height="0.55" fill="#20f080"/><rect x="163.70" y="398.50" width="6.05" height="0.55" fill="#20f080"/><rect x="163.70" y="399.00" width="6.05" height="0.55" fill="#20f080"/><rect x="164.20" y="399.50" width="4.55" height="0.55" fill="#20f080"/><rect x="165.70" y="394.00" width="4.05" height="0.55" fill="#a0f020"/><rect x="165.20" y="394.50" width="5.05" height="0.55" fill="#a0f020"/><rect x="164.70" y="395.00" width="5.55" height="0.55" fill="#a0f020"/><rect x="164.70" y="395.50" width="5.55" height="0.55" fill="#a0f020"/><rect x="164.70" y="396.00" width="5.55" height="0.55" fill="#a0f020"/><rect x="164.70" y="396.50" width="5.55" height="0.55" fill="#a0f020"/><rect x="164.70" y="397.00" width="5.55" height="0.55" fill="#a0f020"/><rect x="164.70" y="397.50" width="5.05" height="0.55" fill="#a0f020"/><rect x="164.70" y="398.00" width="5.05" height="0.55" fill="#a0f020"/><rect x="164.70" y="398.50" width="4.55" height="0.55" fill="#a0f020"/><rect x="165.20" y="399.00" width="3.05" height="0.55" fill="#a0f020"/><rect x="166.70" y="394.00" width="2.05" height="0.55" fill="#ffd000"/><rect x="165.70" y="394.50" width="3.55" height="0.55" fill="#ffd000"/><rect x="165.20" y="395.00" width="4.55" height="0.55" fill="#ffd000"/><rect x="165.20" y="395.50" width="4.55" height="0.55" fill="#ffd000"/><rect x="165.20" y="396.00" width="4.55" height="0.55" fill="#ffd000"/><rect x="165.20" y="396.50" width="4.55" height="0.55" fill="#ffd000"/><rect x="165.70" y="397.00" width="4.05" height="0.55" fill="#ffd000"/><rect x="165.70" y="397.50" width="3.55" height="0.55" fill="#ffd000"/><rect x="166.20" y="398.00" width="2.05" height="0.55" fill="#ffd000"/><rect x="166.70" y="394.50" width="2.05" height="0.55" fill="#ff6000"/><rect x="166.20" y="395.00" width="3.05" height="0.55" fill="#ff6000"/><rect x="165.70" y="395.50" width="3.55" height="0.55" fill="#ff6000"/><rect x="165.70" y="396.00" width="3.55" height="0.55" fill="#ff6000"/><rect x="166.20" y="396.50" width="3.05" height="0.55" fill="#ff6000"/><rect x="166.70" y="397.00" width="2.05" height="0.55" fill="#ff6000"/><rect x="166.70" y="395.00" width="2.05" height="0.55" fill="#f01818"/><rect x="166.20" y="395.50" width="2.55" height="0.55" fill="#f01818"/><rect x="166.70" y="396.00" width="2.05" height="0.55" fill="#f01818"/><rect x="167.20" y="396.50" width="1.05" height="0.55" fill="#f01818"/></g>
<rect x="172.4" y="386.3" width="22.799999999999983" height="21.5" fill="none" stroke="#555" stroke-width="0.5"/>
<text x="196.1" y="417.2" font-size="4.6" fill="#222" stroke="#222" stroke-width="0.069" text-anchor="end" font-weight="normal" font-style="normal" >30.6</text>
<line x1="155.3" y1="384.5" x2="156.3" y2="384.5" stroke="#666" stroke-width="0.3"/>
<text x="154.9" y="385.3" font-size="1.8" fill="#777" text-anchor="end">10<tspan font-size="1.2" dy="-0.6">4</tspan></text>
<line x1="155.3" y1="391.4" x2="156.3" y2="391.4" stroke="#666" stroke-width="0.3"/>
<text x="154.9" y="392.2" font-size="1.8" fill="#777" text-anchor="end">10<tspan font-size="1.2" dy="-0.6">4</tspan></text>
<line x1="155.3" y1="398.9" x2="156.3" y2="398.9" stroke="#666" stroke-width="0.3"/>
<text x="154.9" y="399.7" font-size="1.8" fill="#777" text-anchor="end">10<tspan font-size="1.2" dy="-0.6">4</tspan></text>
<line x1="155.3" y1="407.7" x2="156.3" y2="407.7" stroke="#666" stroke-width="0.3"/>
<text x="154.9" y="408.5" font-size="1.8" fill="#777" text-anchor="end">10<tspan font-size="1.2" dy="-0.6">4</tspan></text>
<line x1="155.3" y1="416" x2="156.3" y2="416" stroke="#666" stroke-width="0.3"/>
<text x="154.9" y="416.8" font-size="1.8" fill="#777" text-anchor="end">10<tspan font-size="1.2" dy="-0.6">4</tspan></text>
<line x1="161.0" y1="420.2" x2="161.0" y2="421.2" stroke="#666" stroke-width="0.3"/>
<text x="161.0" y="422.8" font-size="1.8" fill="#777" text-anchor="middle">10<tspan font-size="1.2" dy="-0.6">4</tspan></text>
<line x1="166.60000000000002" y1="420.2" x2="166.60000000000002" y2="421.2" stroke="#666" stroke-width="0.3"/>
<text x="166.60000000000002" y="422.8" font-size="1.8" fill="#777" text-anchor="middle">10<tspan font-size="1.2" dy="-0.6">4</tspan></text>
<line x1="173.4" y1="420.2" x2="173.4" y2="421.2" stroke="#666" stroke-width="0.3"/>
<text x="173.4" y="422.8" font-size="1.8" fill="#777" text-anchor="middle">10<tspan font-size="1.2" dy="-0.6">4</tspan></text>
<line x1="183.3" y1="420.2" x2="183.3" y2="421.2" stroke="#666" stroke-width="0.3"/>
<text x="183.3" y="422.8" font-size="1.8" fill="#777" text-anchor="middle">10<tspan font-size="1.2" dy="-0.6">4</tspan></text>
<line x1="191.3" y1="420.2" x2="191.3" y2="421.2" stroke="#666" stroke-width="0.3"/>
<text x="191.3" y="422.8" font-size="1.8" fill="#777" text-anchor="middle">10<tspan font-size="1.2" dy="-0.6">4</tspan></text>
<rect x="155.8" y="406.8" width="1.0" height="1.9" fill="#111" stroke="none" stroke-width="0"/>
<rect x="165.70000000000002" y="419.7" width="2.0" height="1.0" fill="#111" stroke="none" stroke-width="0"/>
<line x1="102.5" y1="410.5" x2="102.5" y2="382.2" stroke="#555" stroke-width="0.4"/>
<path d="M101.6,383.4 L102.5,381.6 L103.4,383.4 Z" fill="#555"/>
<text x="104.0" y="416.3" font-size="3.9" fill="#333" stroke="#333" stroke-width="0.058" text-anchor="middle" font-weight="normal" font-style="normal" transform="rotate(-90 104.0 416.3)" >CD8</text>
<text x="110.2" y="428.9" font-size="3.9" fill="#333" stroke="#333" stroke-width="0.058" text-anchor="start" font-weight="normal" font-style="normal" >IFN-γ</text>
<line x1="122.3" y1="427.5" x2="196.8" y2="427.5" stroke="#555" stroke-width="0.4"/>
<path d="M196,426.6 L197.8,427.5 L196,428.4 Z" fill="#555"/>
<line x1="221.4" y1="375.5" x2="221.4" y2="429.59999999999997" stroke="#888" stroke-width="0.9"/>
<line x1="219.4" y1="375.9" x2="221.4" y2="375.9" stroke="#888" stroke-width="0.8"/>
<text x="218.5" y="377.34999999999997" font-size="4.0" fill="#222" stroke="#222" stroke-width="0.060" text-anchor="end" font-weight="bold" font-style="normal" >40</text>
<line x1="219.4" y1="389.2" x2="221.4" y2="389.2" stroke="#888" stroke-width="0.8"/>
<text x="218.5" y="390.65" font-size="4.0" fill="#222" stroke="#222" stroke-width="0.060" text-anchor="end" font-weight="bold" font-style="normal" >30</text>
<line x1="219.4" y1="402.4" x2="221.4" y2="402.4" stroke="#888" stroke-width="0.8"/>
<text x="218.5" y="403.84999999999997" font-size="4.0" fill="#222" stroke="#222" stroke-width="0.060" text-anchor="end" font-weight="bold" font-style="normal" >20</text>
<line x1="219.4" y1="415.7" x2="221.4" y2="415.7" stroke="#888" stroke-width="0.8"/>
<text x="218.5" y="417.15" font-size="4.0" fill="#222" stroke="#222" stroke-width="0.060" text-anchor="end" font-weight="bold" font-style="normal" >10</text>
<line x1="219.4" y1="429.2" x2="221.4" y2="429.2" stroke="#888" stroke-width="0.8"/>
<text x="218.5" y="430.65" font-size="4.0" fill="#222" stroke="#222" stroke-width="0.060" text-anchor="end" font-weight="bold" font-style="normal" >0</text>
<rect x="226.8" y="406.8" width="9.700000000000012" height="22.399999999999988" fill="#9e4c42" stroke="#7a2e24" stroke-width="0.6"/>
<line x1="229.85" y1="406.0" x2="233.45000000000002" y2="406.0" stroke="#e6b8b0" stroke-width="0.5"/>
<rect x="241.8" y="387.2" width="9.700000000000012" height="42.000000000000014" fill="#4658a4" stroke="#2a3a82" stroke-width="0.6"/>
<line x1="244.85" y1="386.4" x2="248.45000000000002" y2="386.4" stroke="#b0bce6" stroke-width="0.5"/>
<line x1="221.4" y1="429.2" x2="254.7" y2="429.2" stroke="#888" stroke-width="0.9"/>
<line x1="231.7" y1="429.2" x2="231.7" y2="430.8" stroke="#888" stroke-width="0.8"/>
<line x1="246.7" y1="429.2" x2="246.7" y2="430.8" stroke="#888" stroke-width="0.8"/>
<line x1="232.1" y1="380.4" x2="246.8" y2="380.4" stroke="#1a1a1a" stroke-width="1.1"/>
<circle cx="236.05" cy="376.80" r="1.05" fill="#111"/>
<circle cx="239.45" cy="376.80" r="1.05" fill="#111"/>
<circle cx="242.85" cy="376.80" r="1.05" fill="#111"/>
<text x="231.8" y="435.9" font-size="4.2" fill="#000" stroke="#000" stroke-width="0.063" text-anchor="middle" font-weight="bold" font-style="normal" >WT</text>
<text x="246.8" y="435.9" font-size="4.2" fill="#000" stroke="#000" stroke-width="0.063" text-anchor="middle" font-weight="bold" font-style="normal" >KO</text>
<text x="212.8" y="402.2" font-size="4.5" fill="#000" stroke="#000" stroke-width="0.068" text-anchor="middle" font-weight="bold" font-style="normal" transform="rotate(-90 212.8 402.2)" >%IFN-γ<tspan font-size="2.6" dy="-1.3">+</tspan><tspan dy="1.3">CD8</tspan><tspan font-size="2.6" dy="-1.3">+</tspan><tspan dy="1.3"> T cells</tspan></text>
<text x="264.6" y="371.6" font-size="10.4" fill="#1a1a1a" stroke="#1a1a1a" stroke-width="0.250" text-anchor="start" font-weight="normal" font-style="normal" >K</text>
<line x1="284.3" y1="374.70000000000005" x2="284.3" y2="429.59999999999997" stroke="#888" stroke-width="0.9"/>
<line x1="282.3" y1="375.1" x2="284.3" y2="375.1" stroke="#888" stroke-width="0.8"/>
<text x="281.40000000000003" y="376.55" font-size="4.0" fill="#222" stroke="#222" stroke-width="0.060" text-anchor="end" font-weight="bold" font-style="normal" >20</text>
<line x1="282.3" y1="388.7" x2="284.3" y2="388.7" stroke="#888" stroke-width="0.8"/>
<text x="281.40000000000003" y="390.15" font-size="4.0" fill="#222" stroke="#222" stroke-width="0.060" text-anchor="end" font-weight="bold" font-style="normal" >15</text>
<line x1="282.3" y1="402" x2="284.3" y2="402" stroke="#888" stroke-width="0.8"/>
<text x="281.40000000000003" y="403.45" font-size="4.0" fill="#222" stroke="#222" stroke-width="0.060" text-anchor="end" font-weight="bold" font-style="normal" >10</text>
<line x1="282.3" y1="415.6" x2="284.3" y2="415.6" stroke="#888" stroke-width="0.8"/>
<text x="281.40000000000003" y="417.05" font-size="4.0" fill="#222" stroke="#222" stroke-width="0.060" text-anchor="end" font-weight="bold" font-style="normal" >5</text>
<line x1="282.3" y1="429.2" x2="284.3" y2="429.2" stroke="#888" stroke-width="0.8"/>
<text x="281.40000000000003" y="430.65" font-size="4.0" fill="#222" stroke="#222" stroke-width="0.060" text-anchor="end" font-weight="bold" font-style="normal" >0</text>
<rect x="289.7" y="421.1" width="9.800000000000034" height="8.099999999999977" fill="#9e4c42" stroke="#7a2e24" stroke-width="0.6"/>
<line x1="292.8" y1="420.3" x2="296.40000000000003" y2="420.3" stroke="#e6b8b0" stroke-width="0.5"/>
<rect x="304.8" y="391.3" width="9.9" height="37.89999999999999" fill="#4658a4" stroke="#2a3a82" stroke-width="0.6"/>
<line x1="307.95" y1="390.5" x2="311.55" y2="390.5" stroke="#b0bce6" stroke-width="0.5"/>
<line x1="309.75" y1="380.4" x2="309.75" y2="391" stroke="#8a9ad8" stroke-width="0.8"/>
<line x1="307.55" y1="380.4" x2="311.95" y2="380.4" stroke="#8a9ad8" stroke-width="0.8"/>
<line x1="284.3" y1="429.2" x2="317.7" y2="429.2" stroke="#888" stroke-width="0.9"/>
<line x1="294.6" y1="429.2" x2="294.6" y2="430.8" stroke="#888" stroke-width="0.8"/>
<line x1="309.8" y1="429.2" x2="309.8" y2="430.8" stroke="#888" stroke-width="0.8"/>
<line x1="295.1" y1="376.2" x2="309.7" y2="376.2" stroke="#1a1a1a" stroke-width="1.1"/>
<circle cx="302.40" cy="372.60" r="1.05" fill="#111"/>
<text x="294.6" y="435.9" font-size="3.9" fill="#000" stroke="#000" stroke-width="0.058" text-anchor="middle" font-weight="bold" font-style="normal" >WT</text>
<text x="310" y="435.9" font-size="3.9" fill="#000" stroke="#000" stroke-width="0.058" text-anchor="middle" font-weight="bold" font-style="normal" >KO</text>
<text x="274.8" y="401.9" font-size="4.3" fill="#000" stroke="#000" stroke-width="0.065" text-anchor="middle" font-weight="bold" font-style="normal" transform="rotate(-90 274.8 401.9)" >%Annexin V<tspan font-size="2.6" dy="-1.3">+</tspan></text>
</svg>
</body></html>
